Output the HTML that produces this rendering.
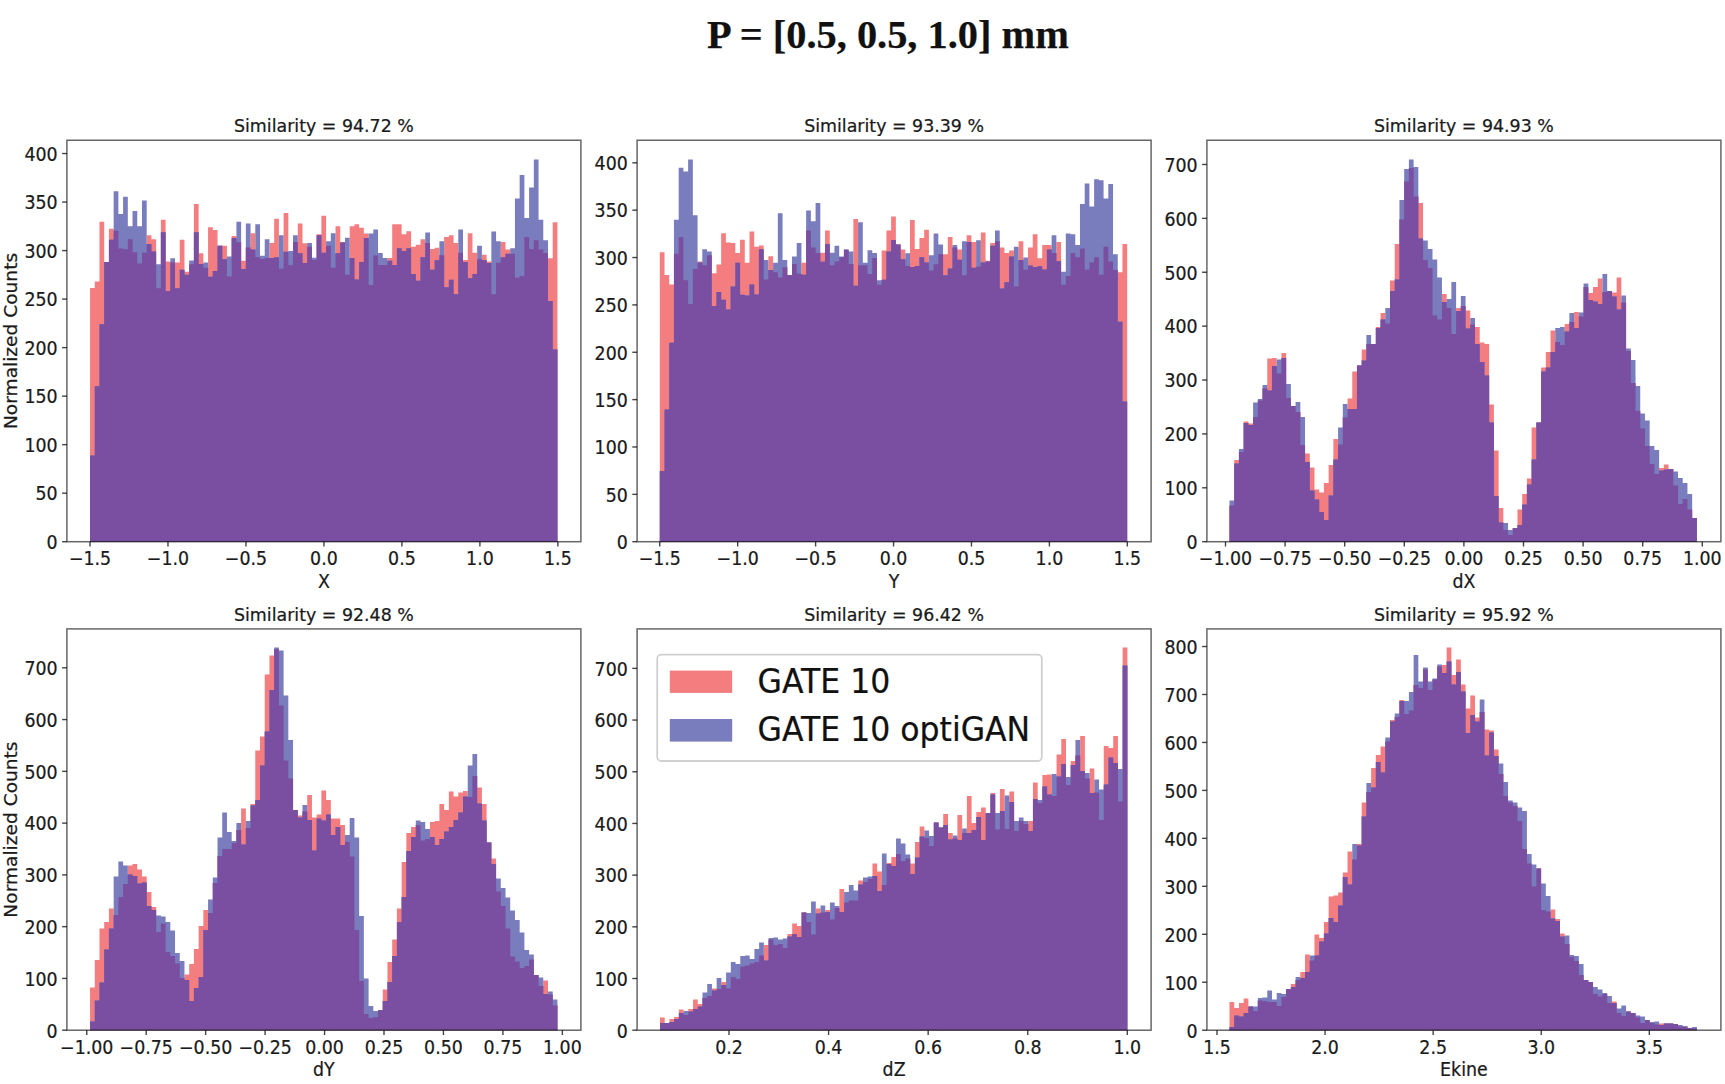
<!DOCTYPE html>
<html lang="en"><head><meta charset="utf-8"><title>P = [0.5, 0.5, 1.0] mm</title>
<style>
html,body{margin:0;padding:0;background:#fff;}
body{width:1725px;height:1084px;overflow:hidden;}
svg{display:block;}
text{font-family:"DejaVu Sans","Liberation Sans",sans-serif;fill:#1a1a1a;stroke:#1a1a1a;stroke-width:0.25px;}
.t{font-size:18.9px;}
.main{font-family:"Liberation Serif","DejaVu Serif",serif;font-weight:bold;font-size:40.4px;fill:#111;}
.lg{font-size:33.2px;fill:#111;}
.sp{fill:none;stroke:#000000;stroke-opacity:0.6;stroke-width:1.5;}
.tk{stroke:#444;stroke-width:1.4;}
</style></head><body>
<svg width="1725" height="1084" viewBox="0 0 1725 1084">
<rect width="1725" height="1084" fill="#fff"/>
<text class="main" x="888" y="48" text-anchor="middle">P = [0.5, 0.5, 1.0] mm</text>

<g>
<path d="M90.05 541.7 L90.05 287.88 L94.77 287.88 L94.77 281.62 L99.49 281.62 L99.49 221.73 L104.21 221.73 L104.21 262.12 L108.93 262.12 L108.93 228.69 L113.66 228.69 L113.66 230.78 L118.38 230.78 L118.38 248.61 L123.1 248.61 L123.1 249.16 L127.82 249.16 L127.82 239.14 L132.54 239.14 L132.54 252.37 L137.26 252.37 L137.26 263.51 L141.98 263.51 L141.98 252.79 L146.7 252.79 L146.7 235.24 L151.42 235.24 L151.42 239.14 L156.14 239.14 L156.14 288.3 L160.87 288.3 L160.87 219.64 L165.59 219.64 L165.59 261.42 L170.31 261.42 L170.31 262.53 L175.03 262.53 L175.03 262.53 L179.75 262.53 L179.75 239.83 L184.47 239.83 L184.47 271.87 L189.19 271.87 L189.19 264.21 L193.91 264.21 L193.91 204.04 L198.63 204.04 L198.63 253.34 L203.35 253.34 L203.35 267.69 L208.08 267.69 L208.08 227.3 L212.8 227.3 L212.8 230.08 L217.52 230.08 L217.52 245.82 L222.24 245.82 L222.24 245.82 L226.96 245.82 L226.96 276.46 L231.68 276.46 L231.68 236.07 L236.4 236.07 L236.4 242.2 L241.12 242.2 L241.12 260.72 L245.84 260.72 L245.84 247.49 L250.56 247.49 L250.56 233.29 L255.29 233.29 L255.29 257.24 L260.01 257.24 L260.01 258.91 L264.73 258.91 L264.73 257.94 L269.45 257.94 L269.45 243.04 L274.17 243.04 L274.17 218.66 L278.89 218.66 L278.89 268.8 L283.61 268.8 L283.61 212.95 L288.33 212.95 L288.33 264.9 L293.05 264.9 L293.05 241.92 L297.77 241.92 L297.77 223.54 L302.5 223.54 L302.5 243.31 L307.22 243.31 L307.22 246.8 L311.94 246.8 L311.94 260.03 L316.66 260.03 L316.66 234.26 L321.38 234.26 L321.38 215.74 L326.1 215.74 L326.1 245.82 L330.82 245.82 L330.82 267.69 L335.54 267.69 L335.54 226.32 L340.26 226.32 L340.26 241.92 L344.98 241.92 L344.98 274.65 L349.71 274.65 L349.71 226.32 L354.43 226.32 L354.43 224.23 L359.15 224.23 L359.15 227.72 L363.87 227.72 L363.87 233.57 L368.59 233.57 L368.59 285.1 L373.31 285.1 L373.31 255.57 L378.03 255.57 L378.03 264.9 L382.75 264.9 L382.75 264.9 L387.47 264.9 L387.47 257.94 L392.19 257.94 L392.19 224.23 L396.92 224.23 L396.92 224.23 L401.64 224.23 L401.64 234.26 L406.36 234.26 L406.36 231.2 L411.08 231.2 L411.08 246.8 L415.8 246.8 L415.8 244.71 L420.52 244.71 L420.52 239.14 L425.24 239.14 L425.24 243.04 L429.96 243.04 L429.96 248.89 L434.68 248.89 L434.68 247.77 L439.4 247.77 L439.4 255.15 L444.13 255.15 L444.13 237.05 L448.85 237.05 L448.85 235.24 L453.57 235.24 L453.57 243.04 L458.29 243.04 L458.29 252.79 L463.01 252.79 L463.01 260.03 L467.73 260.03 L467.73 233.29 L472.45 233.29 L472.45 252.79 L477.17 252.79 L477.17 259.33 L481.89 259.33 L481.89 254.74 L486.61 254.74 L486.61 261.42 L491.34 261.42 L491.34 294.15 L496.06 294.15 L496.06 262.81 L500.78 262.81 L500.78 241.92 L505.5 241.92 L505.5 249.58 L510.22 249.58 L510.22 253.76 L514.94 253.76 L514.94 277.86 L519.66 277.86 L519.66 276.04 L524.38 276.04 L524.38 237.05 L529.1 237.05 L529.1 248.89 L533.82 248.89 L533.82 240.25 L538.55 240.25 L538.55 249.58 L543.27 249.58 L543.27 253.06 L547.99 253.06 L547.99 258.36 L552.71 258.36 L552.71 222.14 L557.43 222.14 L557.43 541.7Z" fill="#f37d7f"/>
<path d="M90.05 541.7 L90.05 455.5 L94.77 455.5 L94.77 386.25 L99.49 386.25 L99.49 324.25 L104.21 324.25 L104.21 262.12 L108.93 262.12 L108.93 239.83 L113.66 239.83 L113.66 191.36 L118.38 191.36 L118.38 214.07 L123.1 214.07 L123.1 196.66 L127.82 196.66 L127.82 226.32 L132.54 226.32 L132.54 211 L137.26 211 L137.26 226.32 L141.98 226.32 L141.98 200.42 L146.7 200.42 L146.7 244.01 L151.42 244.01 L151.42 251.39 L156.14 251.39 L156.14 264.21 L160.87 264.21 L160.87 232.17 L165.59 232.17 L165.59 290.95 L170.31 290.95 L170.31 258.36 L175.03 258.36 L175.03 288.3 L179.75 288.3 L179.75 269.78 L184.47 269.78 L184.47 274.65 L189.19 274.65 L189.19 260.45 L193.91 260.45 L193.91 232.17 L198.63 232.17 L198.63 263.93 L203.35 263.93 L203.35 262.53 L208.08 262.53 L208.08 276.74 L212.8 276.74 L212.8 270.89 L217.52 270.89 L217.52 245.82 L222.24 245.82 L222.24 259.33 L226.96 259.33 L226.96 256.55 L231.68 256.55 L231.68 238.02 L236.4 238.02 L236.4 221.73 L241.12 221.73 L241.12 269.08 L245.84 269.08 L245.84 223.54 L250.56 223.54 L250.56 249.58 L255.29 249.58 L255.29 224.23 L260.01 224.23 L260.01 255.85 L264.73 255.85 L264.73 239.14 L269.45 239.14 L269.45 257.94 L274.17 257.94 L274.17 257.24 L278.89 257.24 L278.89 235.24 L283.61 235.24 L283.61 251.67 L288.33 251.67 L288.33 250.97 L293.05 250.97 L293.05 235.24 L297.77 235.24 L297.77 253.34 L302.5 253.34 L302.5 263.09 L307.22 263.09 L307.22 243.04 L311.94 243.04 L311.94 257.66 L316.66 257.66 L316.66 235.24 L321.38 235.24 L321.38 252.79 L326.1 252.79 L326.1 241.23 L330.82 241.23 L330.82 233.29 L335.54 233.29 L335.54 253.34 L340.26 253.34 L340.26 242.62 L344.98 242.62 L344.98 237.74 L349.71 237.74 L349.71 257.94 L354.43 257.94 L354.43 279.53 L359.15 279.53 L359.15 262.12 L363.87 262.12 L363.87 238.02 L368.59 238.02 L368.59 233.57 L373.31 233.57 L373.31 229.39 L378.03 229.39 L378.03 253.06 L382.75 253.06 L382.75 257.94 L387.47 257.94 L387.47 260.72 L392.19 260.72 L392.19 264.9 L396.92 264.9 L396.92 248.19 L401.64 248.19 L401.64 250.97 L406.36 250.97 L406.36 248.19 L411.08 248.19 L411.08 273.96 L415.8 273.96 L415.8 280.64 L420.52 280.64 L420.52 257.24 L425.24 257.24 L425.24 232.45 L429.96 232.45 L429.96 269.78 L434.68 269.78 L434.68 260.31 L439.4 260.31 L439.4 241.23 L444.13 241.23 L444.13 287.19 L448.85 287.19 L448.85 279.81 L453.57 279.81 L453.57 294.15 L458.29 294.15 L458.29 229.39 L463.01 229.39 L463.01 262.12 L467.73 262.12 L467.73 278.13 L472.45 278.13 L472.45 273.96 L477.17 273.96 L477.17 245.82 L481.89 245.82 L481.89 260.03 L486.61 260.03 L486.61 263.09 L491.34 263.09 L491.34 231.48 L496.06 231.48 L496.06 241.23 L500.78 241.23 L500.78 257.24 L505.5 257.24 L505.5 253.76 L510.22 253.76 L510.22 248.19 L514.94 248.19 L514.94 198.47 L519.66 198.47 L519.66 175.07 L524.38 175.07 L524.38 217.97 L529.1 217.97 L529.1 187.6 L533.82 187.6 L533.82 159.47 L538.55 159.47 L538.55 219.64 L543.27 219.64 L543.27 240.25 L547.99 240.25 L547.99 301 L552.71 301 L552.71 349.5 L557.43 349.5 L557.43 541.7Z" fill="#797cbd"/>
<path d="M90.05 541.7 L90.05 455.5 L94.77 455.5 L94.77 386.25 L99.49 386.25 L99.49 324.25 L104.21 324.25 L104.21 262.12 L108.93 262.12 L108.93 239.83 L113.66 239.83 L113.66 230.78 L118.38 230.78 L118.38 248.61 L123.1 248.61 L123.1 249.16 L127.82 249.16 L127.82 239.14 L132.54 239.14 L132.54 252.37 L137.26 252.37 L137.26 263.51 L141.98 263.51 L141.98 252.79 L146.7 252.79 L146.7 244.01 L151.42 244.01 L151.42 251.39 L156.14 251.39 L156.14 288.3 L160.87 288.3 L160.87 232.17 L165.59 232.17 L165.59 290.95 L170.31 290.95 L170.31 262.53 L175.03 262.53 L175.03 288.3 L179.75 288.3 L179.75 269.78 L184.47 269.78 L184.47 274.65 L189.19 274.65 L189.19 264.21 L193.91 264.21 L193.91 232.17 L198.63 232.17 L198.63 263.93 L203.35 263.93 L203.35 267.69 L208.08 267.69 L208.08 276.74 L212.8 276.74 L212.8 270.89 L217.52 270.89 L217.52 245.82 L222.24 245.82 L222.24 259.33 L226.96 259.33 L226.96 276.46 L231.68 276.46 L231.68 238.02 L236.4 238.02 L236.4 242.2 L241.12 242.2 L241.12 269.08 L245.84 269.08 L245.84 247.49 L250.56 247.49 L250.56 249.58 L255.29 249.58 L255.29 257.24 L260.01 257.24 L260.01 258.91 L264.73 258.91 L264.73 257.94 L269.45 257.94 L269.45 257.94 L274.17 257.94 L274.17 257.24 L278.89 257.24 L278.89 268.8 L283.61 268.8 L283.61 251.67 L288.33 251.67 L288.33 264.9 L293.05 264.9 L293.05 241.92 L297.77 241.92 L297.77 253.34 L302.5 253.34 L302.5 263.09 L307.22 263.09 L307.22 246.8 L311.94 246.8 L311.94 260.03 L316.66 260.03 L316.66 235.24 L321.38 235.24 L321.38 252.79 L326.1 252.79 L326.1 245.82 L330.82 245.82 L330.82 267.69 L335.54 267.69 L335.54 253.34 L340.26 253.34 L340.26 242.62 L344.98 242.62 L344.98 274.65 L349.71 274.65 L349.71 257.94 L354.43 257.94 L354.43 279.53 L359.15 279.53 L359.15 262.12 L363.87 262.12 L363.87 238.02 L368.59 238.02 L368.59 285.1 L373.31 285.1 L373.31 255.57 L378.03 255.57 L378.03 264.9 L382.75 264.9 L382.75 264.9 L387.47 264.9 L387.47 260.72 L392.19 260.72 L392.19 264.9 L396.92 264.9 L396.92 248.19 L401.64 248.19 L401.64 250.97 L406.36 250.97 L406.36 248.19 L411.08 248.19 L411.08 273.96 L415.8 273.96 L415.8 280.64 L420.52 280.64 L420.52 257.24 L425.24 257.24 L425.24 243.04 L429.96 243.04 L429.96 269.78 L434.68 269.78 L434.68 260.31 L439.4 260.31 L439.4 255.15 L444.13 255.15 L444.13 287.19 L448.85 287.19 L448.85 279.81 L453.57 279.81 L453.57 294.15 L458.29 294.15 L458.29 252.79 L463.01 252.79 L463.01 262.12 L467.73 262.12 L467.73 278.13 L472.45 278.13 L472.45 273.96 L477.17 273.96 L477.17 259.33 L481.89 259.33 L481.89 260.03 L486.61 260.03 L486.61 263.09 L491.34 263.09 L491.34 294.15 L496.06 294.15 L496.06 262.81 L500.78 262.81 L500.78 257.24 L505.5 257.24 L505.5 253.76 L510.22 253.76 L510.22 253.76 L514.94 253.76 L514.94 277.86 L519.66 277.86 L519.66 276.04 L524.38 276.04 L524.38 237.05 L529.1 237.05 L529.1 248.89 L533.82 248.89 L533.82 240.25 L538.55 240.25 L538.55 249.58 L543.27 249.58 L543.27 253.06 L547.99 253.06 L547.99 301 L552.71 301 L552.71 349.5 L557.43 349.5 L557.43 541.7Z" fill="#7a4ea0"/>
<line class="tk" x1="90" y1="541.7" x2="90" y2="546.5"/>
<text class="t" transform="translate(90 564.95) scale(0.921 1)" text-anchor="middle">−1.5</text>
<line class="tk" x1="167.98" y1="541.7" x2="167.98" y2="546.5"/>
<text class="t" transform="translate(167.98 564.95) scale(0.921 1)" text-anchor="middle">−1.0</text>
<line class="tk" x1="245.96" y1="541.7" x2="245.96" y2="546.5"/>
<text class="t" transform="translate(245.96 564.95) scale(0.921 1)" text-anchor="middle">−0.5</text>
<line class="tk" x1="323.94" y1="541.7" x2="323.94" y2="546.5"/>
<text class="t" transform="translate(323.94 564.95) scale(0.921 1)" text-anchor="middle">0.0</text>
<line class="tk" x1="401.92" y1="541.7" x2="401.92" y2="546.5"/>
<text class="t" transform="translate(401.92 564.95) scale(0.921 1)" text-anchor="middle">0.5</text>
<line class="tk" x1="479.9" y1="541.7" x2="479.9" y2="546.5"/>
<text class="t" transform="translate(479.9 564.95) scale(0.921 1)" text-anchor="middle">1.0</text>
<line class="tk" x1="557.88" y1="541.7" x2="557.88" y2="546.5"/>
<text class="t" transform="translate(557.88 564.95) scale(0.921 1)" text-anchor="middle">1.5</text>
<line class="tk" x1="62.1" y1="541.7" x2="66.9" y2="541.7"/>
<text class="t" transform="translate(57.6 549) scale(0.921 1)" text-anchor="end">0</text>
<line class="tk" x1="62.1" y1="493.18" x2="66.9" y2="493.18"/>
<text class="t" transform="translate(57.6 500.48) scale(0.921 1)" text-anchor="end">50</text>
<line class="tk" x1="62.1" y1="444.66" x2="66.9" y2="444.66"/>
<text class="t" transform="translate(57.6 451.96) scale(0.921 1)" text-anchor="end">100</text>
<line class="tk" x1="62.1" y1="396.14" x2="66.9" y2="396.14"/>
<text class="t" transform="translate(57.6 403.44) scale(0.921 1)" text-anchor="end">150</text>
<line class="tk" x1="62.1" y1="347.62" x2="66.9" y2="347.62"/>
<text class="t" transform="translate(57.6 354.92) scale(0.921 1)" text-anchor="end">200</text>
<line class="tk" x1="62.1" y1="299.1" x2="66.9" y2="299.1"/>
<text class="t" transform="translate(57.6 306.4) scale(0.921 1)" text-anchor="end">250</text>
<line class="tk" x1="62.1" y1="250.58" x2="66.9" y2="250.58"/>
<text class="t" transform="translate(57.6 257.88) scale(0.921 1)" text-anchor="end">300</text>
<line class="tk" x1="62.1" y1="202.06" x2="66.9" y2="202.06"/>
<text class="t" transform="translate(57.6 209.36) scale(0.921 1)" text-anchor="end">350</text>
<line class="tk" x1="62.1" y1="153.54" x2="66.9" y2="153.54"/>
<text class="t" transform="translate(57.6 160.84) scale(0.921 1)" text-anchor="end">400</text>
<rect class="sp" x="66.9" y="140.25" width="514" height="401.45"/>
<text class="t" style="font-size:18.4px" transform="translate(323.9 131.75) scale(0.946 1)" text-anchor="middle">Similarity = 94.72 %</text>
<text class="t" transform="translate(323.9 588.15) scale(0.921 1)" text-anchor="middle">X</text>
<text class="t" style="font-size:18.6px" transform="translate(16.5 340.98) scale(0.95 1) rotate(-90)" text-anchor="middle">Normalized Counts</text>
</g>
<g>
<path d="M659.8 541.7 L659.8 252.37 L664.52 252.37 L664.52 275.07 L669.24 275.07 L669.24 284.4 L673.96 284.4 L673.96 253.76 L678.68 253.76 L678.68 237.05 L683.4 237.05 L683.4 280.22 L688.13 280.22 L688.13 304 L692.85 304 L692.85 269.08 L697.57 269.08 L697.57 261.42 L702.29 261.42 L702.29 265.32 L707.01 265.32 L707.01 255.15 L711.73 255.15 L711.73 273.26 L716.45 273.26 L716.45 264.48 L721.17 264.48 L721.17 233.29 L725.89 233.29 L725.89 242.62 L730.62 242.62 L730.62 243.04 L735.34 243.04 L735.34 253.06 L740.06 253.06 L740.06 239.83 L744.78 239.83 L744.78 262.81 L749.5 262.81 L749.5 231.48 L754.22 231.48 L754.22 246.8 L758.94 246.8 L758.94 245.4 L763.66 245.4 L763.66 279.53 L768.38 279.53 L768.38 256.27 L773.1 256.27 L773.1 272.28 L777.83 272.28 L777.83 277.44 L782.55 277.44 L782.55 267.27 L787.27 267.27 L787.27 275.07 L791.99 275.07 L791.99 263.93 L796.71 263.93 L796.71 273.68 L801.43 273.68 L801.43 262.81 L806.15 262.81 L806.15 230.5 L810.87 230.5 L810.87 247.49 L815.59 247.49 L815.59 253.06 L820.31 253.06 L820.31 252.79 L825.04 252.79 L825.04 230.5 L829.76 230.5 L829.76 265.32 L834.48 265.32 L834.48 261.42 L839.2 261.42 L839.2 257.24 L843.92 257.24 L843.92 250 L848.64 250 L848.64 263.93 L853.36 263.93 L853.36 218.94 L858.08 218.94 L858.08 265.32 L862.8 265.32 L862.8 265.32 L867.52 265.32 L867.52 273.96 L872.25 273.96 L872.25 257.94 L876.97 257.94 L876.97 284.82 L881.69 284.82 L881.69 250.56 L886.41 250.56 L886.41 230.5 L891.13 230.5 L891.13 216.57 L895.85 216.57 L895.85 244.43 L900.57 244.43 L900.57 249.58 L905.29 249.58 L905.29 265.88 L910.01 265.88 L910.01 220.06 L914.73 220.06 L914.73 248.89 L919.46 248.89 L919.46 238.02 L924.18 238.02 L924.18 229.67 L928.9 229.67 L928.9 270.47 L933.62 270.47 L933.62 264.21 L938.34 264.21 L938.34 254.18 L943.06 254.18 L943.06 254.18 L947.78 254.18 L947.78 237.05 L952.5 237.05 L952.5 247.49 L957.22 247.49 L957.22 249.58 L961.94 249.58 L961.94 275.35 L966.67 275.35 L966.67 235.24 L971.39 235.24 L971.39 241.92 L976.11 241.92 L976.11 266.71 L980.83 266.71 L980.83 232.45 L985.55 232.45 L985.55 260.72 L990.27 260.72 L990.27 243.04 L994.99 243.04 L994.99 241.23 L999.71 241.23 L999.71 247.49 L1004.43 247.49 L1004.43 253.06 L1009.15 253.06 L1009.15 250.56 L1013.88 250.56 L1013.88 286.49 L1018.6 286.49 L1018.6 241.23 L1023.32 241.23 L1023.32 269.78 L1028.04 269.78 L1028.04 247.49 L1032.76 247.49 L1032.76 234.26 L1037.48 234.26 L1037.48 258.36 L1042.2 258.36 L1042.2 244.99 L1046.92 244.99 L1046.92 244.99 L1051.64 244.99 L1051.64 253.06 L1056.36 253.06 L1056.36 241.92 L1061.09 241.92 L1061.09 284.82 L1065.81 284.82 L1065.81 276.04 L1070.53 276.04 L1070.53 253.06 L1075.25 253.06 L1075.25 257.24 L1079.97 257.24 L1079.97 248.61 L1084.69 248.61 L1084.69 269.78 L1089.41 269.78 L1089.41 262.53 L1094.13 262.53 L1094.13 257.24 L1098.85 257.24 L1098.85 274.65 L1103.57 274.65 L1103.57 246.8 L1108.3 246.8 L1108.3 261.42 L1113.02 261.42 L1113.02 270.06 L1117.74 270.06 L1117.74 272.28 L1122.46 272.28 L1122.46 244.01 L1127.18 244.01 L1127.18 541.7Z" fill="#f37d7f"/>
<path d="M659.8 541.7 L659.8 471 L664.52 471 L664.52 409.5 L669.24 409.5 L669.24 342.7 L673.96 342.7 L673.96 219.64 L678.68 219.64 L678.68 167.83 L683.4 167.83 L683.4 171.59 L688.13 171.59 L688.13 159.47 L692.85 159.47 L692.85 215.18 L697.57 215.18 L697.57 262.53 L702.29 262.53 L702.29 249.16 L707.01 249.16 L707.01 251.39 L711.73 251.39 L711.73 306 L716.45 306 L716.45 292.06 L721.17 292.06 L721.17 299.72 L725.89 299.72 L725.89 309.6 L730.62 309.6 L730.62 286.49 L735.34 286.49 L735.34 262.81 L740.06 262.81 L740.06 294.85 L744.78 294.85 L744.78 295.54 L749.5 295.54 L749.5 284.4 L754.22 284.4 L754.22 294.57 L758.94 294.57 L758.94 249.16 L763.66 249.16 L763.66 260.03 L768.38 260.03 L768.38 270.06 L773.1 270.06 L773.1 262.81 L777.83 262.81 L777.83 213.37 L782.55 213.37 L782.55 260.03 L787.27 260.03 L787.27 275.07 L791.99 275.07 L791.99 256.55 L796.71 256.55 L796.71 243.04 L801.43 243.04 L801.43 274.65 L806.15 274.65 L806.15 210.58 L810.87 210.58 L810.87 221.31 L815.59 221.31 L815.59 202.92 L820.31 202.92 L820.31 261.7 L825.04 261.7 L825.04 244.01 L829.76 244.01 L829.76 252.79 L834.48 252.79 L834.48 245.82 L839.2 245.82 L839.2 256.55 L843.92 256.55 L843.92 249.16 L848.64 249.16 L848.64 251.39 L853.36 251.39 L853.36 285.79 L858.08 285.79 L858.08 222.14 L862.8 222.14 L862.8 262.81 L867.52 262.81 L867.52 250.28 L872.25 250.28 L872.25 253.06 L876.97 253.06 L876.97 280.22 L881.69 280.22 L881.69 279.81 L886.41 279.81 L886.41 251.39 L891.13 251.39 L891.13 239.97 L895.85 239.97 L895.85 244.43 L900.57 244.43 L900.57 259.33 L905.29 259.33 L905.29 253.34 L910.01 253.34 L910.01 266.99 L914.73 266.99 L914.73 265.88 L919.46 265.88 L919.46 257.24 L924.18 257.24 L924.18 262.53 L928.9 262.53 L928.9 255.15 L933.62 255.15 L933.62 233.57 L938.34 233.57 L938.34 244.43 L943.06 244.43 L943.06 275.35 L947.78 275.35 L947.78 268.38 L952.5 268.38 L952.5 244.99 L957.22 244.99 L957.22 259.75 L961.94 259.75 L961.94 241.23 L966.67 241.23 L966.67 241.92 L971.39 241.92 L971.39 267.69 L976.11 267.69 L976.11 240.25 L980.83 240.25 L980.83 262.53 L985.55 262.53 L985.55 261.42 L990.27 261.42 L990.27 245.82 L994.99 245.82 L994.99 230.5 L999.71 230.5 L999.71 288.58 L1004.43 288.58 L1004.43 282.31 L1009.15 282.31 L1009.15 256.55 L1013.88 256.55 L1013.88 246.8 L1018.6 246.8 L1018.6 260.03 L1023.32 260.03 L1023.32 257.52 L1028.04 257.52 L1028.04 265.6 L1032.76 265.6 L1032.76 266.99 L1037.48 266.99 L1037.48 266.3 L1042.2 266.3 L1042.2 269.5 L1046.92 269.5 L1046.92 249.58 L1051.64 249.58 L1051.64 235.24 L1056.36 235.24 L1056.36 261.14 L1061.09 261.14 L1061.09 271.87 L1065.81 271.87 L1065.81 233.57 L1070.53 233.57 L1070.53 234.26 L1075.25 234.26 L1075.25 244.99 L1079.97 244.99 L1079.97 204.04 L1084.69 204.04 L1084.69 183.43 L1089.41 183.43 L1089.41 206.41 L1094.13 206.41 L1094.13 179.25 L1098.85 179.25 L1098.85 180.36 L1103.57 180.36 L1103.57 198.47 L1108.3 198.47 L1108.3 184.12 L1113.02 184.12 L1113.02 254.18 L1117.74 254.18 L1117.74 321.7 L1122.46 321.7 L1122.46 401.4 L1127.18 401.4 L1127.18 541.7Z" fill="#797cbd"/>
<path d="M659.8 541.7 L659.8 471 L664.52 471 L664.52 409.5 L669.24 409.5 L669.24 342.7 L673.96 342.7 L673.96 253.76 L678.68 253.76 L678.68 237.05 L683.4 237.05 L683.4 280.22 L688.13 280.22 L688.13 304 L692.85 304 L692.85 269.08 L697.57 269.08 L697.57 262.53 L702.29 262.53 L702.29 265.32 L707.01 265.32 L707.01 255.15 L711.73 255.15 L711.73 306 L716.45 306 L716.45 292.06 L721.17 292.06 L721.17 299.72 L725.89 299.72 L725.89 309.6 L730.62 309.6 L730.62 286.49 L735.34 286.49 L735.34 262.81 L740.06 262.81 L740.06 294.85 L744.78 294.85 L744.78 295.54 L749.5 295.54 L749.5 284.4 L754.22 284.4 L754.22 294.57 L758.94 294.57 L758.94 249.16 L763.66 249.16 L763.66 279.53 L768.38 279.53 L768.38 270.06 L773.1 270.06 L773.1 272.28 L777.83 272.28 L777.83 277.44 L782.55 277.44 L782.55 267.27 L787.27 267.27 L787.27 275.07 L791.99 275.07 L791.99 263.93 L796.71 263.93 L796.71 273.68 L801.43 273.68 L801.43 274.65 L806.15 274.65 L806.15 230.5 L810.87 230.5 L810.87 247.49 L815.59 247.49 L815.59 253.06 L820.31 253.06 L820.31 261.7 L825.04 261.7 L825.04 244.01 L829.76 244.01 L829.76 265.32 L834.48 265.32 L834.48 261.42 L839.2 261.42 L839.2 257.24 L843.92 257.24 L843.92 250 L848.64 250 L848.64 263.93 L853.36 263.93 L853.36 285.79 L858.08 285.79 L858.08 265.32 L862.8 265.32 L862.8 265.32 L867.52 265.32 L867.52 273.96 L872.25 273.96 L872.25 257.94 L876.97 257.94 L876.97 284.82 L881.69 284.82 L881.69 279.81 L886.41 279.81 L886.41 251.39 L891.13 251.39 L891.13 239.97 L895.85 239.97 L895.85 244.43 L900.57 244.43 L900.57 259.33 L905.29 259.33 L905.29 265.88 L910.01 265.88 L910.01 266.99 L914.73 266.99 L914.73 265.88 L919.46 265.88 L919.46 257.24 L924.18 257.24 L924.18 262.53 L928.9 262.53 L928.9 270.47 L933.62 270.47 L933.62 264.21 L938.34 264.21 L938.34 254.18 L943.06 254.18 L943.06 275.35 L947.78 275.35 L947.78 268.38 L952.5 268.38 L952.5 247.49 L957.22 247.49 L957.22 259.75 L961.94 259.75 L961.94 275.35 L966.67 275.35 L966.67 241.92 L971.39 241.92 L971.39 267.69 L976.11 267.69 L976.11 266.71 L980.83 266.71 L980.83 262.53 L985.55 262.53 L985.55 261.42 L990.27 261.42 L990.27 245.82 L994.99 245.82 L994.99 241.23 L999.71 241.23 L999.71 288.58 L1004.43 288.58 L1004.43 282.31 L1009.15 282.31 L1009.15 256.55 L1013.88 256.55 L1013.88 286.49 L1018.6 286.49 L1018.6 260.03 L1023.32 260.03 L1023.32 269.78 L1028.04 269.78 L1028.04 265.6 L1032.76 265.6 L1032.76 266.99 L1037.48 266.99 L1037.48 266.3 L1042.2 266.3 L1042.2 269.5 L1046.92 269.5 L1046.92 249.58 L1051.64 249.58 L1051.64 253.06 L1056.36 253.06 L1056.36 261.14 L1061.09 261.14 L1061.09 284.82 L1065.81 284.82 L1065.81 276.04 L1070.53 276.04 L1070.53 253.06 L1075.25 253.06 L1075.25 257.24 L1079.97 257.24 L1079.97 248.61 L1084.69 248.61 L1084.69 269.78 L1089.41 269.78 L1089.41 262.53 L1094.13 262.53 L1094.13 257.24 L1098.85 257.24 L1098.85 274.65 L1103.57 274.65 L1103.57 246.8 L1108.3 246.8 L1108.3 261.42 L1113.02 261.42 L1113.02 270.06 L1117.74 270.06 L1117.74 321.7 L1122.46 321.7 L1122.46 401.4 L1127.18 401.4 L1127.18 541.7Z" fill="#7a4ea0"/>
<line class="tk" x1="659.75" y1="541.7" x2="659.75" y2="546.5"/>
<text class="t" transform="translate(659.75 564.95) scale(0.921 1)" text-anchor="middle">−1.5</text>
<line class="tk" x1="737.68" y1="541.7" x2="737.68" y2="546.5"/>
<text class="t" transform="translate(737.68 564.95) scale(0.921 1)" text-anchor="middle">−1.0</text>
<line class="tk" x1="815.61" y1="541.7" x2="815.61" y2="546.5"/>
<text class="t" transform="translate(815.61 564.95) scale(0.921 1)" text-anchor="middle">−0.5</text>
<line class="tk" x1="893.54" y1="541.7" x2="893.54" y2="546.5"/>
<text class="t" transform="translate(893.54 564.95) scale(0.921 1)" text-anchor="middle">0.0</text>
<line class="tk" x1="971.47" y1="541.7" x2="971.47" y2="546.5"/>
<text class="t" transform="translate(971.47 564.95) scale(0.921 1)" text-anchor="middle">0.5</text>
<line class="tk" x1="1049.4" y1="541.7" x2="1049.4" y2="546.5"/>
<text class="t" transform="translate(1049.4 564.95) scale(0.921 1)" text-anchor="middle">1.0</text>
<line class="tk" x1="1127.33" y1="541.7" x2="1127.33" y2="546.5"/>
<text class="t" transform="translate(1127.33 564.95) scale(0.921 1)" text-anchor="middle">1.5</text>
<line class="tk" x1="632.3" y1="541.7" x2="637.1" y2="541.7"/>
<text class="t" transform="translate(627.8 549) scale(0.921 1)" text-anchor="end">0</text>
<line class="tk" x1="632.3" y1="494.34" x2="637.1" y2="494.34"/>
<text class="t" transform="translate(627.8 501.64) scale(0.921 1)" text-anchor="end">50</text>
<line class="tk" x1="632.3" y1="446.98" x2="637.1" y2="446.98"/>
<text class="t" transform="translate(627.8 454.28) scale(0.921 1)" text-anchor="end">100</text>
<line class="tk" x1="632.3" y1="399.62" x2="637.1" y2="399.62"/>
<text class="t" transform="translate(627.8 406.92) scale(0.921 1)" text-anchor="end">150</text>
<line class="tk" x1="632.3" y1="352.26" x2="637.1" y2="352.26"/>
<text class="t" transform="translate(627.8 359.56) scale(0.921 1)" text-anchor="end">200</text>
<line class="tk" x1="632.3" y1="304.9" x2="637.1" y2="304.9"/>
<text class="t" transform="translate(627.8 312.2) scale(0.921 1)" text-anchor="end">250</text>
<line class="tk" x1="632.3" y1="257.54" x2="637.1" y2="257.54"/>
<text class="t" transform="translate(627.8 264.84) scale(0.921 1)" text-anchor="end">300</text>
<line class="tk" x1="632.3" y1="210.18" x2="637.1" y2="210.18"/>
<text class="t" transform="translate(627.8 217.48) scale(0.921 1)" text-anchor="end">350</text>
<line class="tk" x1="632.3" y1="162.82" x2="637.1" y2="162.82"/>
<text class="t" transform="translate(627.8 170.12) scale(0.921 1)" text-anchor="end">400</text>
<rect class="sp" x="637.1" y="140.25" width="514" height="401.45"/>
<text class="t" style="font-size:18.4px" transform="translate(894.1 131.75) scale(0.946 1)" text-anchor="middle">Similarity = 93.39 %</text>
<text class="t" transform="translate(894.1 588.15) scale(0.921 1)" text-anchor="middle">Y</text>
</g>
<g>
<path d="M1229.5 541.7 L1229.5 505.6 L1234.22 505.6 L1234.22 460 L1238.94 460 L1238.94 452 L1243.66 452 L1243.66 421.4 L1248.38 421.4 L1248.38 423.4 L1253.11 423.4 L1253.11 417 L1257.83 417 L1257.83 400.6 L1262.55 400.6 L1262.55 388.6 L1267.27 388.6 L1267.27 358.6 L1271.99 358.6 L1271.99 358 L1276.71 358 L1276.71 373.6 L1281.43 373.6 L1281.43 353 L1286.15 353 L1286.15 398 L1290.87 398 L1290.87 406 L1295.59 406 L1295.59 412 L1300.32 412 L1300.32 445 L1305.04 445 L1305.04 453.4 L1309.76 453.4 L1309.76 467.4 L1314.48 467.4 L1314.48 489.4 L1319.2 489.4 L1319.2 492.6 L1323.92 492.6 L1323.92 483 L1328.64 483 L1328.64 465 L1333.36 465 L1333.36 439 L1338.08 439 L1338.08 444.6 L1342.8 444.6 L1342.8 417.4 L1347.53 417.4 L1347.53 398.6 L1352.25 398.6 L1352.25 371.4 L1356.97 371.4 L1356.97 365.6 L1361.69 365.6 L1361.69 349.4 L1366.41 349.4 L1366.41 344 L1371.13 344 L1371.13 344 L1375.85 344 L1375.85 327 L1380.57 327 L1380.57 313 L1385.29 313 L1385.29 323.6 L1390.01 323.6 L1390.01 280.4 L1394.74 280.4 L1394.74 244 L1399.46 244 L1399.46 219.6 L1404.18 219.6 L1404.18 181.6 L1408.9 181.6 L1408.9 168 L1413.62 168 L1413.62 196.4 L1418.34 196.4 L1418.34 203 L1423.06 203 L1423.06 260 L1427.78 260 L1427.78 268 L1432.5 268 L1432.5 315.6 L1437.22 315.6 L1437.22 319.6 L1441.95 319.6 L1441.95 294 L1446.67 294 L1446.67 308 L1451.39 308 L1451.39 334 L1456.11 334 L1456.11 308 L1460.83 308 L1460.83 306 L1465.55 306 L1465.55 310.4 L1470.27 310.4 L1470.27 324.4 L1474.99 324.4 L1474.99 327 L1479.71 327 L1479.71 342.6 L1484.43 342.6 L1484.43 344 L1489.16 344 L1489.16 404.6 L1493.88 404.6 L1493.88 450.6 L1498.6 450.6 L1498.6 508 L1503.32 508 L1503.32 530 L1508.04 530 L1508.04 535 L1512.76 535 L1512.76 528 L1517.48 528 L1517.48 509.4 L1522.2 509.4 L1522.2 494 L1526.92 494 L1526.92 478.6 L1531.64 478.6 L1531.64 427.4 L1536.37 427.4 L1536.37 422.6 L1541.09 422.6 L1541.09 367.4 L1545.81 367.4 L1545.81 352 L1550.53 352 L1550.53 330.6 L1555.25 330.6 L1555.25 342 L1559.97 342 L1559.97 345 L1564.69 345 L1564.69 324 L1569.41 324 L1569.41 322 L1574.13 322 L1574.13 312 L1578.85 312 L1578.85 316.4 L1583.58 316.4 L1583.58 287 L1588.3 287 L1588.3 293 L1593.02 293 L1593.02 287 L1597.74 287 L1597.74 278.4 L1602.46 278.4 L1602.46 292 L1607.18 292 L1607.18 291 L1611.9 291 L1611.9 292.4 L1616.62 292.4 L1616.62 277.6 L1621.34 277.6 L1621.34 302.4 L1626.06 302.4 L1626.06 351 L1630.79 351 L1630.79 383 L1635.51 383 L1635.51 411 L1640.23 411 L1640.23 428.6 L1644.95 428.6 L1644.95 446 L1649.67 446 L1649.67 464 L1654.39 464 L1654.39 474 L1659.11 474 L1659.11 468 L1663.83 468 L1663.83 464.6 L1668.55 464.6 L1668.55 469 L1673.27 469 L1673.27 485.4 L1678 485.4 L1678 504 L1682.72 504 L1682.72 499 L1687.44 499 L1687.44 509.4 L1692.16 509.4 L1692.16 518 L1696.88 518 L1696.88 541.7Z" fill="#f37d7f"/>
<path d="M1229.5 541.7 L1229.5 500.6 L1234.22 500.6 L1234.22 463.4 L1238.94 463.4 L1238.94 449 L1243.66 449 L1243.66 423 L1248.38 423 L1248.38 425 L1253.11 425 L1253.11 402.6 L1257.83 402.6 L1257.83 399 L1262.55 399 L1262.55 385 L1267.27 385 L1267.27 390.6 L1271.99 390.6 L1271.99 366 L1276.71 366 L1276.71 359.4 L1281.43 359.4 L1281.43 358 L1286.15 358 L1286.15 384 L1290.87 384 L1290.87 406 L1295.59 406 L1295.59 402 L1300.32 402 L1300.32 417 L1305.04 417 L1305.04 462 L1309.76 462 L1309.76 490.6 L1314.48 490.6 L1314.48 499.4 L1319.2 499.4 L1319.2 512 L1323.92 512 L1323.92 520 L1328.64 520 L1328.64 495.4 L1333.36 495.4 L1333.36 459.4 L1338.08 459.4 L1338.08 427.4 L1342.8 427.4 L1342.8 404 L1347.53 404 L1347.53 409 L1352.25 409 L1352.25 409 L1356.97 409 L1356.97 365.6 L1361.69 365.6 L1361.69 360.6 L1366.41 360.6 L1366.41 335 L1371.13 335 L1371.13 344 L1375.85 344 L1375.85 328 L1380.57 328 L1380.57 319.6 L1385.29 319.6 L1385.29 308 L1390.01 308 L1390.01 291 L1394.74 291 L1394.74 279.6 L1399.46 279.6 L1399.46 200 L1404.18 200 L1404.18 169 L1408.9 169 L1408.9 159.4 L1413.62 159.4 L1413.62 167 L1418.34 167 L1418.34 238.4 L1423.06 238.4 L1423.06 240.6 L1427.78 240.6 L1427.78 249 L1432.5 249 L1432.5 259.6 L1437.22 259.6 L1437.22 277.6 L1441.95 277.6 L1441.95 302 L1446.67 302 L1446.67 299 L1451.39 299 L1451.39 282 L1456.11 282 L1456.11 311 L1460.83 311 L1460.83 296 L1465.55 296 L1465.55 328.4 L1470.27 328.4 L1470.27 318 L1474.99 318 L1474.99 344 L1479.71 344 L1479.71 362 L1484.43 362 L1484.43 375.4 L1489.16 375.4 L1489.16 422.6 L1493.88 422.6 L1493.88 496 L1498.6 496 L1498.6 522.6 L1503.32 522.6 L1503.32 523 L1508.04 523 L1508.04 530 L1512.76 530 L1512.76 528 L1517.48 528 L1517.48 525 L1522.2 525 L1522.2 504.6 L1526.92 504.6 L1526.92 484.6 L1531.64 484.6 L1531.64 459.4 L1536.37 459.4 L1536.37 422.6 L1541.09 422.6 L1541.09 371.4 L1545.81 371.4 L1545.81 367.4 L1550.53 367.4 L1550.53 352 L1555.25 352 L1555.25 328 L1559.97 328 L1559.97 327 L1564.69 327 L1564.69 331.6 L1569.41 331.6 L1569.41 313 L1574.13 313 L1574.13 328 L1578.85 328 L1578.85 312.4 L1583.58 312.4 L1583.58 283.6 L1588.3 283.6 L1588.3 300 L1593.02 300 L1593.02 301.6 L1597.74 301.6 L1597.74 304 L1602.46 304 L1602.46 274 L1607.18 274 L1607.18 291 L1611.9 291 L1611.9 296.4 L1616.62 296.4 L1616.62 309.6 L1621.34 309.6 L1621.34 295.6 L1626.06 295.6 L1626.06 348.6 L1630.79 348.6 L1630.79 360 L1635.51 360 L1635.51 386 L1640.23 386 L1640.23 413.4 L1644.95 413.4 L1644.95 420.6 L1649.67 420.6 L1649.67 446 L1654.39 446 L1654.39 450 L1659.11 450 L1659.11 470.6 L1663.83 470.6 L1663.83 469.4 L1668.55 469.4 L1668.55 469 L1673.27 469 L1673.27 471.4 L1678 471.4 L1678 478 L1682.72 478 L1682.72 483 L1687.44 483 L1687.44 494 L1692.16 494 L1692.16 518 L1696.88 518 L1696.88 541.7Z" fill="#797cbd"/>
<path d="M1229.5 541.7 L1229.5 505.6 L1234.22 505.6 L1234.22 463.4 L1238.94 463.4 L1238.94 452 L1243.66 452 L1243.66 423 L1248.38 423 L1248.38 425 L1253.11 425 L1253.11 417 L1257.83 417 L1257.83 400.6 L1262.55 400.6 L1262.55 388.6 L1267.27 388.6 L1267.27 390.6 L1271.99 390.6 L1271.99 366 L1276.71 366 L1276.71 373.6 L1281.43 373.6 L1281.43 358 L1286.15 358 L1286.15 398 L1290.87 398 L1290.87 406 L1295.59 406 L1295.59 412 L1300.32 412 L1300.32 445 L1305.04 445 L1305.04 462 L1309.76 462 L1309.76 490.6 L1314.48 490.6 L1314.48 499.4 L1319.2 499.4 L1319.2 512 L1323.92 512 L1323.92 520 L1328.64 520 L1328.64 495.4 L1333.36 495.4 L1333.36 459.4 L1338.08 459.4 L1338.08 444.6 L1342.8 444.6 L1342.8 417.4 L1347.53 417.4 L1347.53 409 L1352.25 409 L1352.25 409 L1356.97 409 L1356.97 365.6 L1361.69 365.6 L1361.69 360.6 L1366.41 360.6 L1366.41 344 L1371.13 344 L1371.13 344 L1375.85 344 L1375.85 328 L1380.57 328 L1380.57 319.6 L1385.29 319.6 L1385.29 323.6 L1390.01 323.6 L1390.01 291 L1394.74 291 L1394.74 279.6 L1399.46 279.6 L1399.46 219.6 L1404.18 219.6 L1404.18 181.6 L1408.9 181.6 L1408.9 168 L1413.62 168 L1413.62 196.4 L1418.34 196.4 L1418.34 238.4 L1423.06 238.4 L1423.06 260 L1427.78 260 L1427.78 268 L1432.5 268 L1432.5 315.6 L1437.22 315.6 L1437.22 319.6 L1441.95 319.6 L1441.95 302 L1446.67 302 L1446.67 308 L1451.39 308 L1451.39 334 L1456.11 334 L1456.11 311 L1460.83 311 L1460.83 306 L1465.55 306 L1465.55 328.4 L1470.27 328.4 L1470.27 324.4 L1474.99 324.4 L1474.99 344 L1479.71 344 L1479.71 362 L1484.43 362 L1484.43 375.4 L1489.16 375.4 L1489.16 422.6 L1493.88 422.6 L1493.88 496 L1498.6 496 L1498.6 522.6 L1503.32 522.6 L1503.32 530 L1508.04 530 L1508.04 535 L1512.76 535 L1512.76 528 L1517.48 528 L1517.48 525 L1522.2 525 L1522.2 504.6 L1526.92 504.6 L1526.92 484.6 L1531.64 484.6 L1531.64 459.4 L1536.37 459.4 L1536.37 422.6 L1541.09 422.6 L1541.09 371.4 L1545.81 371.4 L1545.81 367.4 L1550.53 367.4 L1550.53 352 L1555.25 352 L1555.25 342 L1559.97 342 L1559.97 345 L1564.69 345 L1564.69 331.6 L1569.41 331.6 L1569.41 322 L1574.13 322 L1574.13 328 L1578.85 328 L1578.85 316.4 L1583.58 316.4 L1583.58 287 L1588.3 287 L1588.3 300 L1593.02 300 L1593.02 301.6 L1597.74 301.6 L1597.74 304 L1602.46 304 L1602.46 292 L1607.18 292 L1607.18 291 L1611.9 291 L1611.9 296.4 L1616.62 296.4 L1616.62 309.6 L1621.34 309.6 L1621.34 302.4 L1626.06 302.4 L1626.06 351 L1630.79 351 L1630.79 383 L1635.51 383 L1635.51 411 L1640.23 411 L1640.23 428.6 L1644.95 428.6 L1644.95 446 L1649.67 446 L1649.67 464 L1654.39 464 L1654.39 474 L1659.11 474 L1659.11 470.6 L1663.83 470.6 L1663.83 469.4 L1668.55 469.4 L1668.55 469 L1673.27 469 L1673.27 485.4 L1678 485.4 L1678 504 L1682.72 504 L1682.72 499 L1687.44 499 L1687.44 509.4 L1692.16 509.4 L1692.16 518 L1696.88 518 L1696.88 541.7Z" fill="#7a4ea0"/>
<line class="tk" x1="1225.5" y1="541.7" x2="1225.5" y2="546.5"/>
<text class="t" transform="translate(1225.5 564.95) scale(0.921 1)" text-anchor="middle">−1.00</text>
<line class="tk" x1="1285.1" y1="541.7" x2="1285.1" y2="546.5"/>
<text class="t" transform="translate(1285.1 564.95) scale(0.921 1)" text-anchor="middle">−0.75</text>
<line class="tk" x1="1344.7" y1="541.7" x2="1344.7" y2="546.5"/>
<text class="t" transform="translate(1344.7 564.95) scale(0.921 1)" text-anchor="middle">−0.50</text>
<line class="tk" x1="1404.3" y1="541.7" x2="1404.3" y2="546.5"/>
<text class="t" transform="translate(1404.3 564.95) scale(0.921 1)" text-anchor="middle">−0.25</text>
<line class="tk" x1="1463.9" y1="541.7" x2="1463.9" y2="546.5"/>
<text class="t" transform="translate(1463.9 564.95) scale(0.921 1)" text-anchor="middle">0.00</text>
<line class="tk" x1="1523.5" y1="541.7" x2="1523.5" y2="546.5"/>
<text class="t" transform="translate(1523.5 564.95) scale(0.921 1)" text-anchor="middle">0.25</text>
<line class="tk" x1="1583.1" y1="541.7" x2="1583.1" y2="546.5"/>
<text class="t" transform="translate(1583.1 564.95) scale(0.921 1)" text-anchor="middle">0.50</text>
<line class="tk" x1="1642.7" y1="541.7" x2="1642.7" y2="546.5"/>
<text class="t" transform="translate(1642.7 564.95) scale(0.921 1)" text-anchor="middle">0.75</text>
<line class="tk" x1="1702.3" y1="541.7" x2="1702.3" y2="546.5"/>
<text class="t" transform="translate(1702.3 564.95) scale(0.921 1)" text-anchor="middle">1.00</text>
<line class="tk" x1="1202.1" y1="541.7" x2="1206.9" y2="541.7"/>
<text class="t" transform="translate(1197.6 549) scale(0.921 1)" text-anchor="end">0</text>
<line class="tk" x1="1202.1" y1="487.81" x2="1206.9" y2="487.81"/>
<text class="t" transform="translate(1197.6 495.11) scale(0.921 1)" text-anchor="end">100</text>
<line class="tk" x1="1202.1" y1="433.92" x2="1206.9" y2="433.92"/>
<text class="t" transform="translate(1197.6 441.22) scale(0.921 1)" text-anchor="end">200</text>
<line class="tk" x1="1202.1" y1="380.03" x2="1206.9" y2="380.03"/>
<text class="t" transform="translate(1197.6 387.33) scale(0.921 1)" text-anchor="end">300</text>
<line class="tk" x1="1202.1" y1="326.14" x2="1206.9" y2="326.14"/>
<text class="t" transform="translate(1197.6 333.44) scale(0.921 1)" text-anchor="end">400</text>
<line class="tk" x1="1202.1" y1="272.25" x2="1206.9" y2="272.25"/>
<text class="t" transform="translate(1197.6 279.55) scale(0.921 1)" text-anchor="end">500</text>
<line class="tk" x1="1202.1" y1="218.36" x2="1206.9" y2="218.36"/>
<text class="t" transform="translate(1197.6 225.66) scale(0.921 1)" text-anchor="end">600</text>
<line class="tk" x1="1202.1" y1="164.47" x2="1206.9" y2="164.47"/>
<text class="t" transform="translate(1197.6 171.77) scale(0.921 1)" text-anchor="end">700</text>
<rect class="sp" x="1206.9" y="140.25" width="514" height="401.45"/>
<text class="t" style="font-size:18.4px" transform="translate(1463.9 131.75) scale(0.946 1)" text-anchor="middle">Similarity = 94.93 %</text>
<text class="t" transform="translate(1463.9 588.15) scale(0.921 1)" text-anchor="middle">dX</text>
</g>
<g>
<path d="M90.05 1030.2 L90.05 987.4 L94.77 987.4 L94.77 960 L99.49 960 L99.49 928.6 L104.21 928.6 L104.21 922 L108.93 922 L108.93 908.6 L113.66 908.6 L113.66 915 L118.38 915 L118.38 897 L123.1 897 L123.1 884 L127.82 884 L127.82 865.4 L132.54 865.4 L132.54 864 L137.26 864 L137.26 869.4 L141.98 869.4 L141.98 876.6 L146.7 876.6 L146.7 892 L151.42 892 L151.42 907 L156.14 907 L156.14 932 L160.87 932 L160.87 923.4 L165.59 923.4 L165.59 952 L170.31 952 L170.31 956 L175.03 956 L175.03 963.4 L179.75 963.4 L179.75 978 L184.47 978 L184.47 974.6 L189.19 974.6 L189.19 964 L193.91 964 L193.91 949 L198.63 949 L198.63 926 L203.35 926 L203.35 910 L208.08 910 L208.08 913 L212.8 913 L212.8 883 L217.52 883 L217.52 856 L222.24 856 L222.24 849 L226.96 849 L226.96 849 L231.68 849 L231.68 843 L236.4 843 L236.4 830 L241.12 830 L241.12 808.4 L245.84 808.4 L245.84 828 L250.56 828 L250.56 804 L255.29 804 L255.29 750.4 L260.01 750.4 L260.01 736.4 L264.73 736.4 L264.73 674.4 L269.45 674.4 L269.45 655.6 L274.17 655.6 L274.17 649 L278.89 649 L278.89 705.6 L283.61 705.6 L283.61 760.4 L288.33 760.4 L288.33 778.4 L293.05 778.4 L293.05 810 L297.77 810 L297.77 815.6 L302.5 815.6 L302.5 811.6 L307.22 811.6 L307.22 795 L311.94 795 L311.94 817.6 L316.66 817.6 L316.66 814.4 L321.38 814.4 L321.38 790.4 L326.1 790.4 L326.1 800 L330.82 800 L330.82 818.4 L335.54 818.4 L335.54 818.4 L340.26 818.4 L340.26 825 L344.98 825 L344.98 842 L349.71 842 L349.71 856.6 L354.43 856.6 L354.43 930 L359.15 930 L359.15 981 L363.87 981 L363.87 1014 L368.59 1014 L368.59 1018 L373.31 1018 L373.31 1017 L378.03 1017 L378.03 1010 L382.75 1010 L382.75 989.4 L387.47 989.4 L387.47 962 L392.19 962 L392.19 939.4 L396.92 939.4 L396.92 908.6 L401.64 908.6 L401.64 862 L406.36 862 L406.36 833 L411.08 833 L411.08 827 L415.8 827 L415.8 825 L420.52 825 L420.52 840.6 L425.24 840.6 L425.24 839 L429.96 839 L429.96 822 L434.68 822 L434.68 821 L439.4 821 L439.4 804 L444.13 804 L444.13 810 L448.85 810 L448.85 791.6 L453.57 791.6 L453.57 796.4 L458.29 796.4 L458.29 792.4 L463.01 792.4 L463.01 791 L467.73 791 L467.73 797 L472.45 797 L472.45 776 L477.17 776 L477.17 787.6 L481.89 787.6 L481.89 804 L486.61 804 L486.61 842.6 L491.34 842.6 L491.34 858.6 L496.06 858.6 L496.06 891.4 L500.78 891.4 L500.78 906 L505.5 906 L505.5 928.6 L510.22 928.6 L510.22 956.6 L514.94 956.6 L514.94 961.4 L519.66 961.4 L519.66 968 L524.38 968 L524.38 966 L529.1 966 L529.1 959.4 L533.82 959.4 L533.82 975 L538.55 975 L538.55 986 L543.27 986 L543.27 980.6 L547.99 980.6 L547.99 994.6 L552.71 994.6 L552.71 1005.4 L557.43 1005.4 L557.43 1030.2Z" fill="#f37d7f"/>
<path d="M90.05 1030.2 L90.05 1021.4 L94.77 1021.4 L94.77 1000.6 L99.49 1000.6 L99.49 982.6 L104.21 982.6 L104.21 949.4 L108.93 949.4 L108.93 928.6 L113.66 928.6 L113.66 876.6 L118.38 876.6 L118.38 861.6 L123.1 861.6 L123.1 865.4 L127.82 865.4 L127.82 874.6 L132.54 874.6 L132.54 876 L137.26 876 L137.26 883.4 L141.98 883.4 L141.98 882.6 L146.7 882.6 L146.7 906 L151.42 906 L151.42 910 L156.14 910 L156.14 915.4 L160.87 915.4 L160.87 916.6 L165.59 916.6 L165.59 922 L170.31 922 L170.31 930.6 L175.03 930.6 L175.03 953 L179.75 953 L179.75 961 L184.47 961 L184.47 980 L189.19 980 L189.19 1001 L193.91 1001 L193.91 988 L198.63 988 L198.63 977 L203.35 977 L203.35 930 L208.08 930 L208.08 899.4 L212.8 899.4 L212.8 877.4 L217.52 877.4 L217.52 837.4 L222.24 837.4 L222.24 812.4 L226.96 812.4 L226.96 832 L231.68 832 L231.68 841 L236.4 841 L236.4 823 L241.12 823 L241.12 844.4 L245.84 844.4 L245.84 821 L250.56 821 L250.56 805.6 L255.29 805.6 L255.29 800 L260.01 800 L260.01 765.6 L264.73 765.6 L264.73 731.6 L269.45 731.6 L269.45 690 L274.17 690 L274.17 647.6 L278.89 647.6 L278.89 650.4 L283.61 650.4 L283.61 695.6 L288.33 695.6 L288.33 740 L293.05 740 L293.05 810 L297.77 810 L297.77 817.6 L302.5 817.6 L302.5 805 L307.22 805 L307.22 820 L311.94 820 L311.94 850.4 L316.66 850.4 L316.66 818.4 L321.38 818.4 L321.38 820.4 L326.1 820.4 L326.1 814.4 L330.82 814.4 L330.82 835 L335.54 835 L335.54 827 L340.26 827 L340.26 845 L344.98 845 L344.98 835 L349.71 835 L349.71 818 L354.43 818 L354.43 837.4 L359.15 837.4 L359.15 916 L363.87 916 L363.87 978.6 L368.59 978.6 L368.59 1006 L373.31 1006 L373.31 1011 L378.03 1011 L378.03 1010 L382.75 1010 L382.75 1001 L387.47 1001 L387.47 982 L392.19 982 L392.19 956 L396.92 956 L396.92 922 L401.64 922 L401.64 897 L406.36 897 L406.36 851 L411.08 851 L411.08 837 L415.8 837 L415.8 820.6 L420.52 820.6 L420.52 822 L425.24 822 L425.24 829 L429.96 829 L429.96 837 L434.68 837 L434.68 845 L439.4 845 L439.4 839 L444.13 839 L444.13 831.6 L448.85 831.6 L448.85 827 L453.57 827 L453.57 820 L458.29 820 L458.29 812.4 L463.01 812.4 L463.01 796.4 L467.73 796.4 L467.73 765.6 L472.45 765.6 L472.45 754 L477.17 754 L477.17 803.6 L481.89 803.6 L481.89 820.4 L486.61 820.4 L486.61 842.6 L491.34 842.6 L491.34 864 L496.06 864 L496.06 878.6 L500.78 878.6 L500.78 888 L505.5 888 L505.5 897.4 L510.22 897.4 L510.22 910.6 L514.94 910.6 L514.94 920 L519.66 920 L519.66 932.6 L524.38 932.6 L524.38 950 L529.1 950 L529.1 954.6 L533.82 954.6 L533.82 975 L538.55 975 L538.55 977.4 L543.27 977.4 L543.27 994 L547.99 994 L547.99 991.4 L552.71 991.4 L552.71 999.4 L557.43 999.4 L557.43 1030.2Z" fill="#797cbd"/>
<path d="M90.05 1030.2 L90.05 1021.4 L94.77 1021.4 L94.77 1000.6 L99.49 1000.6 L99.49 982.6 L104.21 982.6 L104.21 949.4 L108.93 949.4 L108.93 928.6 L113.66 928.6 L113.66 915 L118.38 915 L118.38 897 L123.1 897 L123.1 884 L127.82 884 L127.82 874.6 L132.54 874.6 L132.54 876 L137.26 876 L137.26 883.4 L141.98 883.4 L141.98 882.6 L146.7 882.6 L146.7 906 L151.42 906 L151.42 910 L156.14 910 L156.14 932 L160.87 932 L160.87 923.4 L165.59 923.4 L165.59 952 L170.31 952 L170.31 956 L175.03 956 L175.03 963.4 L179.75 963.4 L179.75 978 L184.47 978 L184.47 980 L189.19 980 L189.19 1001 L193.91 1001 L193.91 988 L198.63 988 L198.63 977 L203.35 977 L203.35 930 L208.08 930 L208.08 913 L212.8 913 L212.8 883 L217.52 883 L217.52 856 L222.24 856 L222.24 849 L226.96 849 L226.96 849 L231.68 849 L231.68 843 L236.4 843 L236.4 830 L241.12 830 L241.12 844.4 L245.84 844.4 L245.84 828 L250.56 828 L250.56 805.6 L255.29 805.6 L255.29 800 L260.01 800 L260.01 765.6 L264.73 765.6 L264.73 731.6 L269.45 731.6 L269.45 690 L274.17 690 L274.17 649 L278.89 649 L278.89 705.6 L283.61 705.6 L283.61 760.4 L288.33 760.4 L288.33 778.4 L293.05 778.4 L293.05 810 L297.77 810 L297.77 817.6 L302.5 817.6 L302.5 811.6 L307.22 811.6 L307.22 820 L311.94 820 L311.94 850.4 L316.66 850.4 L316.66 818.4 L321.38 818.4 L321.38 820.4 L326.1 820.4 L326.1 814.4 L330.82 814.4 L330.82 835 L335.54 835 L335.54 827 L340.26 827 L340.26 845 L344.98 845 L344.98 842 L349.71 842 L349.71 856.6 L354.43 856.6 L354.43 930 L359.15 930 L359.15 981 L363.87 981 L363.87 1014 L368.59 1014 L368.59 1018 L373.31 1018 L373.31 1017 L378.03 1017 L378.03 1010 L382.75 1010 L382.75 1001 L387.47 1001 L387.47 982 L392.19 982 L392.19 956 L396.92 956 L396.92 922 L401.64 922 L401.64 897 L406.36 897 L406.36 851 L411.08 851 L411.08 837 L415.8 837 L415.8 825 L420.52 825 L420.52 840.6 L425.24 840.6 L425.24 839 L429.96 839 L429.96 837 L434.68 837 L434.68 845 L439.4 845 L439.4 839 L444.13 839 L444.13 831.6 L448.85 831.6 L448.85 827 L453.57 827 L453.57 820 L458.29 820 L458.29 812.4 L463.01 812.4 L463.01 796.4 L467.73 796.4 L467.73 797 L472.45 797 L472.45 776 L477.17 776 L477.17 803.6 L481.89 803.6 L481.89 820.4 L486.61 820.4 L486.61 842.6 L491.34 842.6 L491.34 864 L496.06 864 L496.06 891.4 L500.78 891.4 L500.78 906 L505.5 906 L505.5 928.6 L510.22 928.6 L510.22 956.6 L514.94 956.6 L514.94 961.4 L519.66 961.4 L519.66 968 L524.38 968 L524.38 966 L529.1 966 L529.1 959.4 L533.82 959.4 L533.82 975 L538.55 975 L538.55 986 L543.27 986 L543.27 994 L547.99 994 L547.99 994.6 L552.71 994.6 L552.71 1005.4 L557.43 1005.4 L557.43 1030.2Z" fill="#7a4ea0"/>
<line class="tk" x1="86.75" y1="1030.2" x2="86.75" y2="1035"/>
<text class="t" transform="translate(86.75 1053.9) scale(0.921 1)" text-anchor="middle">−1.00</text>
<line class="tk" x1="146.2" y1="1030.2" x2="146.2" y2="1035"/>
<text class="t" transform="translate(146.2 1053.9) scale(0.921 1)" text-anchor="middle">−0.75</text>
<line class="tk" x1="205.65" y1="1030.2" x2="205.65" y2="1035"/>
<text class="t" transform="translate(205.65 1053.9) scale(0.921 1)" text-anchor="middle">−0.50</text>
<line class="tk" x1="265.1" y1="1030.2" x2="265.1" y2="1035"/>
<text class="t" transform="translate(265.1 1053.9) scale(0.921 1)" text-anchor="middle">−0.25</text>
<line class="tk" x1="324.55" y1="1030.2" x2="324.55" y2="1035"/>
<text class="t" transform="translate(324.55 1053.9) scale(0.921 1)" text-anchor="middle">0.00</text>
<line class="tk" x1="384" y1="1030.2" x2="384" y2="1035"/>
<text class="t" transform="translate(384 1053.9) scale(0.921 1)" text-anchor="middle">0.25</text>
<line class="tk" x1="443.45" y1="1030.2" x2="443.45" y2="1035"/>
<text class="t" transform="translate(443.45 1053.9) scale(0.921 1)" text-anchor="middle">0.50</text>
<line class="tk" x1="502.9" y1="1030.2" x2="502.9" y2="1035"/>
<text class="t" transform="translate(502.9 1053.9) scale(0.921 1)" text-anchor="middle">0.75</text>
<line class="tk" x1="562.35" y1="1030.2" x2="562.35" y2="1035"/>
<text class="t" transform="translate(562.35 1053.9) scale(0.921 1)" text-anchor="middle">1.00</text>
<line class="tk" x1="62.1" y1="1030.2" x2="66.9" y2="1030.2"/>
<text class="t" transform="translate(57.6 1037.5) scale(0.921 1)" text-anchor="end">0</text>
<line class="tk" x1="62.1" y1="978.43" x2="66.9" y2="978.43"/>
<text class="t" transform="translate(57.6 985.73) scale(0.921 1)" text-anchor="end">100</text>
<line class="tk" x1="62.1" y1="926.66" x2="66.9" y2="926.66"/>
<text class="t" transform="translate(57.6 933.96) scale(0.921 1)" text-anchor="end">200</text>
<line class="tk" x1="62.1" y1="874.89" x2="66.9" y2="874.89"/>
<text class="t" transform="translate(57.6 882.19) scale(0.921 1)" text-anchor="end">300</text>
<line class="tk" x1="62.1" y1="823.12" x2="66.9" y2="823.12"/>
<text class="t" transform="translate(57.6 830.42) scale(0.921 1)" text-anchor="end">400</text>
<line class="tk" x1="62.1" y1="771.35" x2="66.9" y2="771.35"/>
<text class="t" transform="translate(57.6 778.65) scale(0.921 1)" text-anchor="end">500</text>
<line class="tk" x1="62.1" y1="719.58" x2="66.9" y2="719.58"/>
<text class="t" transform="translate(57.6 726.88) scale(0.921 1)" text-anchor="end">600</text>
<line class="tk" x1="62.1" y1="667.81" x2="66.9" y2="667.81"/>
<text class="t" transform="translate(57.6 675.11) scale(0.921 1)" text-anchor="end">700</text>
<rect class="sp" x="66.9" y="628.9" width="514" height="401.3"/>
<text class="t" style="font-size:18.4px" transform="translate(323.9 621.2) scale(0.946 1)" text-anchor="middle">Similarity = 92.48 %</text>
<text class="t" transform="translate(323.9 1075.8) scale(0.921 1)" text-anchor="middle">dY</text>
<text class="t" style="font-size:18.6px" transform="translate(16.5 829.55) scale(0.95 1) rotate(-90)" text-anchor="middle">Normalized Counts</text>
</g>
<g>
<path d="M660 1030.2 L660 1017.4 L664.72 1017.4 L664.72 1023 L669.44 1023 L669.44 1019 L674.16 1019 L674.16 1017 L678.88 1017 L678.88 1009.4 L683.61 1009.4 L683.61 1015 L688.33 1015 L688.33 1009 L693.05 1009 L693.05 999.4 L697.77 999.4 L697.77 1004 L702.49 1004 L702.49 998 L707.21 998 L707.21 996 L711.93 996 L711.93 988.6 L716.65 988.6 L716.65 989 L721.37 989 L721.37 982 L726.09 982 L726.09 988.6 L730.82 988.6 L730.82 977 L735.54 977 L735.54 979 L740.26 979 L740.26 966.6 L744.98 966.6 L744.98 965.4 L749.7 965.4 L749.7 963.4 L754.42 963.4 L754.42 962 L759.14 962 L759.14 955.4 L763.86 955.4 L763.86 945 L768.58 945 L768.58 939.4 L773.3 939.4 L773.3 945 L778.03 945 L778.03 944 L782.75 944 L782.75 948 L787.47 948 L787.47 934 L792.19 934 L792.19 923.4 L796.91 923.4 L796.91 926 L801.63 926 L801.63 912.6 L806.35 912.6 L806.35 922 L811.07 922 L811.07 934.6 L815.79 934.6 L815.79 908.6 L820.51 908.6 L820.51 912.6 L825.24 912.6 L825.24 910 L829.96 910 L829.96 919.4 L834.68 919.4 L834.68 908 L839.4 908 L839.4 889 L844.12 889 L844.12 902.6 L848.84 902.6 L848.84 900.6 L853.56 900.6 L853.56 900.6 L858.28 900.6 L858.28 880.6 L863 880.6 L863 882 L867.72 882 L867.72 879 L872.45 879 L872.45 863.4 L877.17 863.4 L877.17 871.4 L881.89 871.4 L881.89 885 L886.61 885 L886.61 863 L891.33 863 L891.33 857 L896.05 857 L896.05 854 L900.77 854 L900.77 861 L905.49 861 L905.49 858.6 L910.21 858.6 L910.21 863.4 L914.93 863.4 L914.93 842 L919.66 842 L919.66 826.6 L924.38 826.6 L924.38 838 L929.1 838 L929.1 846 L933.82 846 L933.82 822.6 L938.54 822.6 L938.54 827.4 L943.26 827.4 L943.26 814 L947.98 814 L947.98 833 L952.7 833 L952.7 838.6 L957.42 838.6 L957.42 815 L962.14 815 L962.14 833 L966.87 833 L966.87 796 L971.59 796 L971.59 823 L976.31 823 L976.31 812 L981.03 812 L981.03 807.6 L985.75 807.6 L985.75 813 L990.47 813 L990.47 793 L995.19 793 L995.19 829.6 L999.91 829.6 L999.91 789 L1004.63 789 L1004.63 829 L1009.35 829 L1009.35 791.6 L1014.08 791.6 L1014.08 831 L1018.8 831 L1018.8 821 L1023.52 821 L1023.52 824 L1028.24 824 L1028.24 821 L1032.96 821 L1032.96 782.4 L1037.68 782.4 L1037.68 803 L1042.4 803 L1042.4 775 L1047.12 775 L1047.12 774.4 L1051.84 774.4 L1051.84 796 L1056.56 796 L1056.56 754.4 L1061.29 754.4 L1061.29 739 L1066.01 739 L1066.01 785 L1070.73 785 L1070.73 761 L1075.45 761 L1075.45 755.6 L1080.17 755.6 L1080.17 736 L1084.89 736 L1084.89 778.4 L1089.61 778.4 L1089.61 768.4 L1094.33 768.4 L1094.33 792.4 L1099.05 792.4 L1099.05 820 L1103.77 820 L1103.77 746 L1108.5 746 L1108.5 748 L1113.22 748 L1113.22 736 L1117.94 736 L1117.94 801.6 L1122.66 801.6 L1122.66 647.6 L1127.38 647.6 L1127.38 1030.2Z" fill="#f37d7f"/>
<path d="M660 1030.2 L660 1023 L664.72 1023 L664.72 1023 L669.44 1023 L669.44 1022 L674.16 1022 L674.16 1019 L678.88 1019 L678.88 1013 L683.61 1013 L683.61 1011 L688.33 1011 L688.33 1011.4 L693.05 1011.4 L693.05 1009 L697.77 1009 L697.77 1006.6 L702.49 1006.6 L702.49 992.6 L707.21 992.6 L707.21 984 L711.93 984 L711.93 990.6 L716.65 990.6 L716.65 978 L721.37 978 L721.37 985 L726.09 985 L726.09 972.6 L730.82 972.6 L730.82 962 L735.54 962 L735.54 964 L740.26 964 L740.26 956 L744.98 956 L744.98 955.4 L749.7 955.4 L749.7 959 L754.42 959 L754.42 949 L759.14 949 L759.14 942.6 L763.86 942.6 L763.86 960.6 L768.58 960.6 L768.58 938 L773.3 938 L773.3 937.4 L778.03 937.4 L778.03 939.4 L782.75 939.4 L782.75 938.6 L787.47 938.6 L787.47 936.6 L792.19 936.6 L792.19 934 L796.91 934 L796.91 937 L801.63 937 L801.63 912.6 L806.35 912.6 L806.35 913 L811.07 913 L811.07 901.4 L815.79 901.4 L815.79 913.4 L820.51 913.4 L820.51 905.4 L825.24 905.4 L825.24 912 L829.96 912 L829.96 902.6 L834.68 902.6 L834.68 906 L839.4 906 L839.4 912 L844.12 912 L844.12 892 L848.84 892 L848.84 885 L853.56 885 L853.56 890.6 L858.28 890.6 L858.28 884.6 L863 884.6 L863 877.4 L867.72 877.4 L867.72 876.6 L872.45 876.6 L872.45 876 L877.17 876 L877.17 891 L881.89 891 L881.89 853.6 L886.61 853.6 L886.61 864 L891.33 864 L891.33 866 L896.05 866 L896.05 838.6 L900.77 838.6 L900.77 843.4 L905.49 843.4 L905.49 854.6 L910.21 854.6 L910.21 874 L914.93 874 L914.93 857.4 L919.66 857.4 L919.66 836.6 L924.38 836.6 L924.38 830.6 L929.1 830.6 L929.1 836 L933.82 836 L933.82 822.6 L938.54 822.6 L938.54 827.4 L943.26 827.4 L943.26 825 L947.98 825 L947.98 839.4 L952.7 839.4 L952.7 835.4 L957.42 835.4 L957.42 840 L962.14 840 L962.14 828.6 L966.87 828.6 L966.87 833 L971.59 833 L971.59 830 L976.31 830 L976.31 817 L981.03 817 L981.03 840 L985.75 840 L985.75 813 L990.47 813 L990.47 794.4 L995.19 794.4 L995.19 813 L999.91 813 L999.91 811 L1004.63 811 L1004.63 795.6 L1009.35 795.6 L1009.35 802 L1014.08 802 L1014.08 821 L1018.8 821 L1018.8 817.6 L1023.52 817.6 L1023.52 821 L1028.24 821 L1028.24 831 L1032.96 831 L1032.96 799 L1037.68 799 L1037.68 800 L1042.4 800 L1042.4 786.4 L1047.12 786.4 L1047.12 794.4 L1051.84 794.4 L1051.84 774 L1056.56 774 L1056.56 776.4 L1061.29 776.4 L1061.29 764 L1066.01 764 L1066.01 777 L1070.73 777 L1070.73 765 L1075.45 765 L1075.45 740 L1080.17 740 L1080.17 771 L1084.89 771 L1084.89 773 L1089.61 773 L1089.61 793 L1094.33 793 L1094.33 779.6 L1099.05 779.6 L1099.05 789.6 L1103.77 789.6 L1103.77 784.4 L1108.5 784.4 L1108.5 757.6 L1113.22 757.6 L1113.22 763 L1117.94 763 L1117.94 769 L1122.66 769 L1122.66 665.6 L1127.38 665.6 L1127.38 1030.2Z" fill="#797cbd"/>
<path d="M660 1030.2 L660 1023 L664.72 1023 L664.72 1023 L669.44 1023 L669.44 1022 L674.16 1022 L674.16 1019 L678.88 1019 L678.88 1013 L683.61 1013 L683.61 1015 L688.33 1015 L688.33 1011.4 L693.05 1011.4 L693.05 1009 L697.77 1009 L697.77 1006.6 L702.49 1006.6 L702.49 998 L707.21 998 L707.21 996 L711.93 996 L711.93 990.6 L716.65 990.6 L716.65 989 L721.37 989 L721.37 985 L726.09 985 L726.09 988.6 L730.82 988.6 L730.82 977 L735.54 977 L735.54 979 L740.26 979 L740.26 966.6 L744.98 966.6 L744.98 965.4 L749.7 965.4 L749.7 963.4 L754.42 963.4 L754.42 962 L759.14 962 L759.14 955.4 L763.86 955.4 L763.86 960.6 L768.58 960.6 L768.58 939.4 L773.3 939.4 L773.3 945 L778.03 945 L778.03 944 L782.75 944 L782.75 948 L787.47 948 L787.47 936.6 L792.19 936.6 L792.19 934 L796.91 934 L796.91 937 L801.63 937 L801.63 912.6 L806.35 912.6 L806.35 922 L811.07 922 L811.07 934.6 L815.79 934.6 L815.79 913.4 L820.51 913.4 L820.51 912.6 L825.24 912.6 L825.24 912 L829.96 912 L829.96 919.4 L834.68 919.4 L834.68 908 L839.4 908 L839.4 912 L844.12 912 L844.12 902.6 L848.84 902.6 L848.84 900.6 L853.56 900.6 L853.56 900.6 L858.28 900.6 L858.28 884.6 L863 884.6 L863 882 L867.72 882 L867.72 879 L872.45 879 L872.45 876 L877.17 876 L877.17 891 L881.89 891 L881.89 885 L886.61 885 L886.61 864 L891.33 864 L891.33 866 L896.05 866 L896.05 854 L900.77 854 L900.77 861 L905.49 861 L905.49 858.6 L910.21 858.6 L910.21 874 L914.93 874 L914.93 857.4 L919.66 857.4 L919.66 836.6 L924.38 836.6 L924.38 838 L929.1 838 L929.1 846 L933.82 846 L933.82 822.6 L938.54 822.6 L938.54 827.4 L943.26 827.4 L943.26 825 L947.98 825 L947.98 839.4 L952.7 839.4 L952.7 838.6 L957.42 838.6 L957.42 840 L962.14 840 L962.14 833 L966.87 833 L966.87 833 L971.59 833 L971.59 830 L976.31 830 L976.31 817 L981.03 817 L981.03 840 L985.75 840 L985.75 813 L990.47 813 L990.47 794.4 L995.19 794.4 L995.19 829.6 L999.91 829.6 L999.91 811 L1004.63 811 L1004.63 829 L1009.35 829 L1009.35 802 L1014.08 802 L1014.08 831 L1018.8 831 L1018.8 821 L1023.52 821 L1023.52 824 L1028.24 824 L1028.24 831 L1032.96 831 L1032.96 799 L1037.68 799 L1037.68 803 L1042.4 803 L1042.4 786.4 L1047.12 786.4 L1047.12 794.4 L1051.84 794.4 L1051.84 796 L1056.56 796 L1056.56 776.4 L1061.29 776.4 L1061.29 764 L1066.01 764 L1066.01 785 L1070.73 785 L1070.73 765 L1075.45 765 L1075.45 755.6 L1080.17 755.6 L1080.17 771 L1084.89 771 L1084.89 778.4 L1089.61 778.4 L1089.61 793 L1094.33 793 L1094.33 792.4 L1099.05 792.4 L1099.05 820 L1103.77 820 L1103.77 784.4 L1108.5 784.4 L1108.5 757.6 L1113.22 757.6 L1113.22 763 L1117.94 763 L1117.94 801.6 L1122.66 801.6 L1122.66 665.6 L1127.38 665.6 L1127.38 1030.2Z" fill="#7a4ea0"/>
<rect x="657.2" y="654.6" width="384.6" height="106.4" rx="4" ry="4" fill="#fff" fill-opacity="0.8" stroke="#d0d0d0" stroke-width="1.8"/>
<rect x="669.8" y="670.6" width="62.4" height="22.3" fill="#f37d7f"/>
<rect x="669.8" y="719.0" width="62.4" height="22.6" fill="#797cbd"/>
<text class="lg" transform="translate(757.5 693) scale(0.949 1)" text-anchor="start">GATE 10</text>
<text class="lg" transform="translate(757.5 741) scale(0.949 1)" text-anchor="start">GATE 10 optiGAN</text>
<line class="tk" x1="729" y1="1030.2" x2="729" y2="1035"/>
<text class="t" transform="translate(729 1053.9) scale(0.921 1)" text-anchor="middle">0.2</text>
<line class="tk" x1="828.58" y1="1030.2" x2="828.58" y2="1035"/>
<text class="t" transform="translate(828.58 1053.9) scale(0.921 1)" text-anchor="middle">0.4</text>
<line class="tk" x1="928.16" y1="1030.2" x2="928.16" y2="1035"/>
<text class="t" transform="translate(928.16 1053.9) scale(0.921 1)" text-anchor="middle">0.6</text>
<line class="tk" x1="1027.74" y1="1030.2" x2="1027.74" y2="1035"/>
<text class="t" transform="translate(1027.74 1053.9) scale(0.921 1)" text-anchor="middle">0.8</text>
<line class="tk" x1="1127.32" y1="1030.2" x2="1127.32" y2="1035"/>
<text class="t" transform="translate(1127.32 1053.9) scale(0.921 1)" text-anchor="middle">1.0</text>
<line class="tk" x1="632.3" y1="1030.2" x2="637.1" y2="1030.2"/>
<text class="t" transform="translate(627.8 1037.5) scale(0.921 1)" text-anchor="end">0</text>
<line class="tk" x1="632.3" y1="978.51" x2="637.1" y2="978.51"/>
<text class="t" transform="translate(627.8 985.81) scale(0.921 1)" text-anchor="end">100</text>
<line class="tk" x1="632.3" y1="926.82" x2="637.1" y2="926.82"/>
<text class="t" transform="translate(627.8 934.12) scale(0.921 1)" text-anchor="end">200</text>
<line class="tk" x1="632.3" y1="875.13" x2="637.1" y2="875.13"/>
<text class="t" transform="translate(627.8 882.43) scale(0.921 1)" text-anchor="end">300</text>
<line class="tk" x1="632.3" y1="823.44" x2="637.1" y2="823.44"/>
<text class="t" transform="translate(627.8 830.74) scale(0.921 1)" text-anchor="end">400</text>
<line class="tk" x1="632.3" y1="771.75" x2="637.1" y2="771.75"/>
<text class="t" transform="translate(627.8 779.05) scale(0.921 1)" text-anchor="end">500</text>
<line class="tk" x1="632.3" y1="720.06" x2="637.1" y2="720.06"/>
<text class="t" transform="translate(627.8 727.36) scale(0.921 1)" text-anchor="end">600</text>
<line class="tk" x1="632.3" y1="668.37" x2="637.1" y2="668.37"/>
<text class="t" transform="translate(627.8 675.67) scale(0.921 1)" text-anchor="end">700</text>
<rect class="sp" x="637.1" y="628.9" width="514" height="401.3"/>
<text class="t" style="font-size:18.4px" transform="translate(894.1 621.2) scale(0.946 1)" text-anchor="middle">Similarity = 96.42 %</text>
<text class="t" transform="translate(894.1 1075.8) scale(0.921 1)" text-anchor="middle">dZ</text>
</g>
<g>
<path d="M1229.5 1030.2 L1229.5 1002 L1234.22 1002 L1234.22 1008 L1238.94 1008 L1238.94 1003 L1243.66 1003 L1243.66 998.6 L1248.38 998.6 L1248.38 1006.6 L1253.11 1006.6 L1253.11 1011 L1257.83 1011 L1257.83 1000.6 L1262.55 1000.6 L1262.55 1001 L1267.27 1001 L1267.27 1002 L1271.99 1002 L1271.99 1002 L1276.71 1002 L1276.71 1006 L1281.43 1006 L1281.43 997 L1286.15 997 L1286.15 989 L1290.87 989 L1290.87 984 L1295.59 984 L1295.59 980 L1300.32 980 L1300.32 972 L1305.04 972 L1305.04 954.6 L1309.76 954.6 L1309.76 960.6 L1314.48 960.6 L1314.48 934.6 L1319.2 934.6 L1319.2 938 L1323.92 938 L1323.92 922 L1328.64 922 L1328.64 896.6 L1333.36 896.6 L1333.36 895.4 L1338.08 895.4 L1338.08 892.6 L1342.8 892.6 L1342.8 872.6 L1347.53 872.6 L1347.53 851.4 L1352.25 851.4 L1352.25 859.4 L1356.97 859.4 L1356.97 844 L1361.69 844 L1361.69 802.4 L1366.41 802.4 L1366.41 792 L1371.13 792 L1371.13 768 L1375.85 768 L1375.85 755 L1380.57 755 L1380.57 746.4 L1385.29 746.4 L1385.29 741.6 L1390.01 741.6 L1390.01 720 L1394.74 720 L1394.74 717 L1399.46 717 L1399.46 700 L1404.18 700 L1404.18 714 L1408.9 714 L1408.9 710.4 L1413.62 710.4 L1413.62 685 L1418.34 685 L1418.34 688 L1423.06 688 L1423.06 669.6 L1427.78 669.6 L1427.78 690 L1432.5 690 L1432.5 679.6 L1437.22 679.6 L1437.22 666.4 L1441.95 666.4 L1441.95 665 L1446.67 665 L1446.67 647.6 L1451.39 647.6 L1451.39 675 L1456.11 675 L1456.11 659.6 L1460.83 659.6 L1460.83 684.4 L1465.55 684.4 L1465.55 708.4 L1470.27 708.4 L1470.27 695.6 L1474.99 695.6 L1474.99 717.6 L1479.71 717.6 L1479.71 712 L1484.43 712 L1484.43 729.6 L1489.16 729.6 L1489.16 730.4 L1493.88 730.4 L1493.88 749.6 L1498.6 749.6 L1498.6 774 L1503.32 774 L1503.32 796 L1508.04 796 L1508.04 802.4 L1512.76 802.4 L1512.76 806 L1517.48 806 L1517.48 821 L1522.2 821 L1522.2 849 L1526.92 849 L1526.92 863.4 L1531.64 863.4 L1531.64 886.6 L1536.37 886.6 L1536.37 868.6 L1541.09 868.6 L1541.09 910 L1545.81 910 L1545.81 911.4 L1550.53 911.4 L1550.53 909.4 L1555.25 909.4 L1555.25 919 L1559.97 919 L1559.97 933.4 L1564.69 933.4 L1564.69 944 L1569.41 944 L1569.41 957 L1574.13 957 L1574.13 961 L1578.85 961 L1578.85 975 L1583.58 975 L1583.58 980 L1588.3 980 L1588.3 982 L1593.02 982 L1593.02 994 L1597.74 994 L1597.74 996.6 L1602.46 996.6 L1602.46 994 L1607.18 994 L1607.18 1003 L1611.9 1003 L1611.9 1001.4 L1616.62 1001.4 L1616.62 1013 L1621.34 1013 L1621.34 1016 L1626.06 1016 L1626.06 1011.4 L1630.79 1011.4 L1630.79 1013 L1635.51 1013 L1635.51 1017.4 L1640.23 1017.4 L1640.23 1023 L1644.95 1023 L1644.95 1020 L1649.67 1020 L1649.67 1023 L1654.39 1023 L1654.39 1024.6 L1659.11 1024.6 L1659.11 1023.4 L1663.83 1023.4 L1663.83 1023.4 L1668.55 1023.4 L1668.55 1023.6 L1673.27 1023.6 L1673.27 1024 L1678 1024 L1678 1026.6 L1682.72 1026.6 L1682.72 1026.6 L1687.44 1026.6 L1687.44 1028 L1692.16 1028 L1692.16 1028.6 L1696.88 1028.6 L1696.88 1030.2Z" fill="#f37d7f"/>
<path d="M1229.5 1030.2 L1229.5 1027 L1234.22 1027 L1234.22 1015.4 L1238.94 1015.4 L1238.94 1016.6 L1243.66 1016.6 L1243.66 1013 L1248.38 1013 L1248.38 1006.6 L1253.11 1006.6 L1253.11 1006.6 L1257.83 1006.6 L1257.83 998 L1262.55 998 L1262.55 997.4 L1267.27 997.4 L1267.27 990.6 L1271.99 990.6 L1271.99 999.4 L1276.71 999.4 L1276.71 993 L1281.43 993 L1281.43 994 L1286.15 994 L1286.15 989 L1290.87 989 L1290.87 987 L1295.59 987 L1295.59 977 L1300.32 977 L1300.32 978 L1305.04 978 L1305.04 972 L1309.76 972 L1309.76 955.4 L1314.48 955.4 L1314.48 955.4 L1319.2 955.4 L1319.2 941.4 L1323.92 941.4 L1323.92 933.4 L1328.64 933.4 L1328.64 918 L1333.36 918 L1333.36 922 L1338.08 922 L1338.08 905.4 L1342.8 905.4 L1342.8 877 L1347.53 877 L1347.53 884.6 L1352.25 884.6 L1352.25 844 L1356.97 844 L1356.97 845.4 L1361.69 845.4 L1361.69 816.4 L1366.41 816.4 L1366.41 783 L1371.13 783 L1371.13 787.6 L1375.85 787.6 L1375.85 762 L1380.57 762 L1380.57 772.4 L1385.29 772.4 L1385.29 737.6 L1390.01 737.6 L1390.01 721.6 L1394.74 721.6 L1394.74 713.6 L1399.46 713.6 L1399.46 701 L1404.18 701 L1404.18 701 L1408.9 701 L1408.9 692 L1413.62 692 L1413.62 655 L1418.34 655 L1418.34 681.6 L1423.06 681.6 L1423.06 667.6 L1427.78 667.6 L1427.78 681.6 L1432.5 681.6 L1432.5 678.4 L1437.22 678.4 L1437.22 664.4 L1441.95 664.4 L1441.95 673 L1446.67 673 L1446.67 661.6 L1451.39 661.6 L1451.39 684.4 L1456.11 684.4 L1456.11 672 L1460.83 672 L1460.83 691.6 L1465.55 691.6 L1465.55 733 L1470.27 733 L1470.27 715 L1474.99 715 L1474.99 721.6 L1479.71 721.6 L1479.71 699.6 L1484.43 699.6 L1484.43 755.6 L1489.16 755.6 L1489.16 732.4 L1493.88 732.4 L1493.88 756 L1498.6 756 L1498.6 763.6 L1503.32 763.6 L1503.32 782 L1508.04 782 L1508.04 800.4 L1512.76 800.4 L1512.76 802.4 L1517.48 802.4 L1517.48 807.6 L1522.2 807.6 L1522.2 811 L1526.92 811 L1526.92 854 L1531.64 854 L1531.64 864.6 L1536.37 864.6 L1536.37 868.6 L1541.09 868.6 L1541.09 883.4 L1545.81 883.4 L1545.81 896 L1550.53 896 L1550.53 918.6 L1555.25 918.6 L1555.25 921 L1559.97 921 L1559.97 936.6 L1564.69 936.6 L1564.69 935.4 L1569.41 935.4 L1569.41 955 L1574.13 955 L1574.13 956 L1578.85 956 L1578.85 964 L1583.58 964 L1583.58 980 L1588.3 980 L1588.3 982 L1593.02 982 L1593.02 987 L1597.74 987 L1597.74 989.4 L1602.46 989.4 L1602.46 993 L1607.18 993 L1607.18 996 L1611.9 996 L1611.9 1003 L1616.62 1003 L1616.62 1008.6 L1621.34 1008.6 L1621.34 1005.4 L1626.06 1005.4 L1626.06 1011.4 L1630.79 1011.4 L1630.79 1013 L1635.51 1013 L1635.51 1015.4 L1640.23 1015.4 L1640.23 1016.6 L1644.95 1016.6 L1644.95 1020 L1649.67 1020 L1649.67 1022 L1654.39 1022 L1654.39 1021.4 L1659.11 1021.4 L1659.11 1025 L1663.83 1025 L1663.83 1023.4 L1668.55 1023.4 L1668.55 1023.6 L1673.27 1023.6 L1673.27 1024 L1678 1024 L1678 1025 L1682.72 1025 L1682.72 1026.6 L1687.44 1026.6 L1687.44 1028 L1692.16 1028 L1692.16 1027 L1696.88 1027 L1696.88 1030.2Z" fill="#797cbd"/>
<path d="M1229.5 1030.2 L1229.5 1027 L1234.22 1027 L1234.22 1015.4 L1238.94 1015.4 L1238.94 1016.6 L1243.66 1016.6 L1243.66 1013 L1248.38 1013 L1248.38 1006.6 L1253.11 1006.6 L1253.11 1011 L1257.83 1011 L1257.83 1000.6 L1262.55 1000.6 L1262.55 1001 L1267.27 1001 L1267.27 1002 L1271.99 1002 L1271.99 1002 L1276.71 1002 L1276.71 1006 L1281.43 1006 L1281.43 997 L1286.15 997 L1286.15 989 L1290.87 989 L1290.87 987 L1295.59 987 L1295.59 980 L1300.32 980 L1300.32 978 L1305.04 978 L1305.04 972 L1309.76 972 L1309.76 960.6 L1314.48 960.6 L1314.48 955.4 L1319.2 955.4 L1319.2 941.4 L1323.92 941.4 L1323.92 933.4 L1328.64 933.4 L1328.64 918 L1333.36 918 L1333.36 922 L1338.08 922 L1338.08 905.4 L1342.8 905.4 L1342.8 877 L1347.53 877 L1347.53 884.6 L1352.25 884.6 L1352.25 859.4 L1356.97 859.4 L1356.97 845.4 L1361.69 845.4 L1361.69 816.4 L1366.41 816.4 L1366.41 792 L1371.13 792 L1371.13 787.6 L1375.85 787.6 L1375.85 762 L1380.57 762 L1380.57 772.4 L1385.29 772.4 L1385.29 741.6 L1390.01 741.6 L1390.01 721.6 L1394.74 721.6 L1394.74 717 L1399.46 717 L1399.46 701 L1404.18 701 L1404.18 714 L1408.9 714 L1408.9 710.4 L1413.62 710.4 L1413.62 685 L1418.34 685 L1418.34 688 L1423.06 688 L1423.06 669.6 L1427.78 669.6 L1427.78 690 L1432.5 690 L1432.5 679.6 L1437.22 679.6 L1437.22 666.4 L1441.95 666.4 L1441.95 673 L1446.67 673 L1446.67 661.6 L1451.39 661.6 L1451.39 684.4 L1456.11 684.4 L1456.11 672 L1460.83 672 L1460.83 691.6 L1465.55 691.6 L1465.55 733 L1470.27 733 L1470.27 715 L1474.99 715 L1474.99 721.6 L1479.71 721.6 L1479.71 712 L1484.43 712 L1484.43 755.6 L1489.16 755.6 L1489.16 732.4 L1493.88 732.4 L1493.88 756 L1498.6 756 L1498.6 774 L1503.32 774 L1503.32 796 L1508.04 796 L1508.04 802.4 L1512.76 802.4 L1512.76 806 L1517.48 806 L1517.48 821 L1522.2 821 L1522.2 849 L1526.92 849 L1526.92 863.4 L1531.64 863.4 L1531.64 886.6 L1536.37 886.6 L1536.37 868.6 L1541.09 868.6 L1541.09 910 L1545.81 910 L1545.81 911.4 L1550.53 911.4 L1550.53 918.6 L1555.25 918.6 L1555.25 921 L1559.97 921 L1559.97 936.6 L1564.69 936.6 L1564.69 944 L1569.41 944 L1569.41 957 L1574.13 957 L1574.13 961 L1578.85 961 L1578.85 975 L1583.58 975 L1583.58 980 L1588.3 980 L1588.3 982 L1593.02 982 L1593.02 994 L1597.74 994 L1597.74 996.6 L1602.46 996.6 L1602.46 994 L1607.18 994 L1607.18 1003 L1611.9 1003 L1611.9 1003 L1616.62 1003 L1616.62 1013 L1621.34 1013 L1621.34 1016 L1626.06 1016 L1626.06 1011.4 L1630.79 1011.4 L1630.79 1013 L1635.51 1013 L1635.51 1017.4 L1640.23 1017.4 L1640.23 1023 L1644.95 1023 L1644.95 1020 L1649.67 1020 L1649.67 1023 L1654.39 1023 L1654.39 1024.6 L1659.11 1024.6 L1659.11 1025 L1663.83 1025 L1663.83 1023.4 L1668.55 1023.4 L1668.55 1023.6 L1673.27 1023.6 L1673.27 1024 L1678 1024 L1678 1026.6 L1682.72 1026.6 L1682.72 1026.6 L1687.44 1026.6 L1687.44 1028 L1692.16 1028 L1692.16 1028.6 L1696.88 1028.6 L1696.88 1030.2Z" fill="#7a4ea0"/>
<line class="tk" x1="1217" y1="1030.2" x2="1217" y2="1035"/>
<text class="t" transform="translate(1217 1053.9) scale(0.921 1)" text-anchor="middle">1.5</text>
<line class="tk" x1="1325.08" y1="1030.2" x2="1325.08" y2="1035"/>
<text class="t" transform="translate(1325.08 1053.9) scale(0.921 1)" text-anchor="middle">2.0</text>
<line class="tk" x1="1433.16" y1="1030.2" x2="1433.16" y2="1035"/>
<text class="t" transform="translate(1433.16 1053.9) scale(0.921 1)" text-anchor="middle">2.5</text>
<line class="tk" x1="1541.24" y1="1030.2" x2="1541.24" y2="1035"/>
<text class="t" transform="translate(1541.24 1053.9) scale(0.921 1)" text-anchor="middle">3.0</text>
<line class="tk" x1="1649.32" y1="1030.2" x2="1649.32" y2="1035"/>
<text class="t" transform="translate(1649.32 1053.9) scale(0.921 1)" text-anchor="middle">3.5</text>
<line class="tk" x1="1202.1" y1="1030.2" x2="1206.9" y2="1030.2"/>
<text class="t" transform="translate(1197.6 1037.5) scale(0.921 1)" text-anchor="end">0</text>
<line class="tk" x1="1202.1" y1="982.24" x2="1206.9" y2="982.24"/>
<text class="t" transform="translate(1197.6 989.54) scale(0.921 1)" text-anchor="end">100</text>
<line class="tk" x1="1202.1" y1="934.28" x2="1206.9" y2="934.28"/>
<text class="t" transform="translate(1197.6 941.58) scale(0.921 1)" text-anchor="end">200</text>
<line class="tk" x1="1202.1" y1="886.32" x2="1206.9" y2="886.32"/>
<text class="t" transform="translate(1197.6 893.62) scale(0.921 1)" text-anchor="end">300</text>
<line class="tk" x1="1202.1" y1="838.36" x2="1206.9" y2="838.36"/>
<text class="t" transform="translate(1197.6 845.66) scale(0.921 1)" text-anchor="end">400</text>
<line class="tk" x1="1202.1" y1="790.4" x2="1206.9" y2="790.4"/>
<text class="t" transform="translate(1197.6 797.7) scale(0.921 1)" text-anchor="end">500</text>
<line class="tk" x1="1202.1" y1="742.44" x2="1206.9" y2="742.44"/>
<text class="t" transform="translate(1197.6 749.74) scale(0.921 1)" text-anchor="end">600</text>
<line class="tk" x1="1202.1" y1="694.48" x2="1206.9" y2="694.48"/>
<text class="t" transform="translate(1197.6 701.78) scale(0.921 1)" text-anchor="end">700</text>
<line class="tk" x1="1202.1" y1="646.52" x2="1206.9" y2="646.52"/>
<text class="t" transform="translate(1197.6 653.82) scale(0.921 1)" text-anchor="end">800</text>
<rect class="sp" x="1206.9" y="628.9" width="514" height="401.3"/>
<text class="t" style="font-size:18.4px" transform="translate(1463.9 621.2) scale(0.946 1)" text-anchor="middle">Similarity = 95.92 %</text>
<text class="t" transform="translate(1463.9 1075.8) scale(0.921 1)" text-anchor="middle">Ekine</text>
</g>
</svg></body></html>
